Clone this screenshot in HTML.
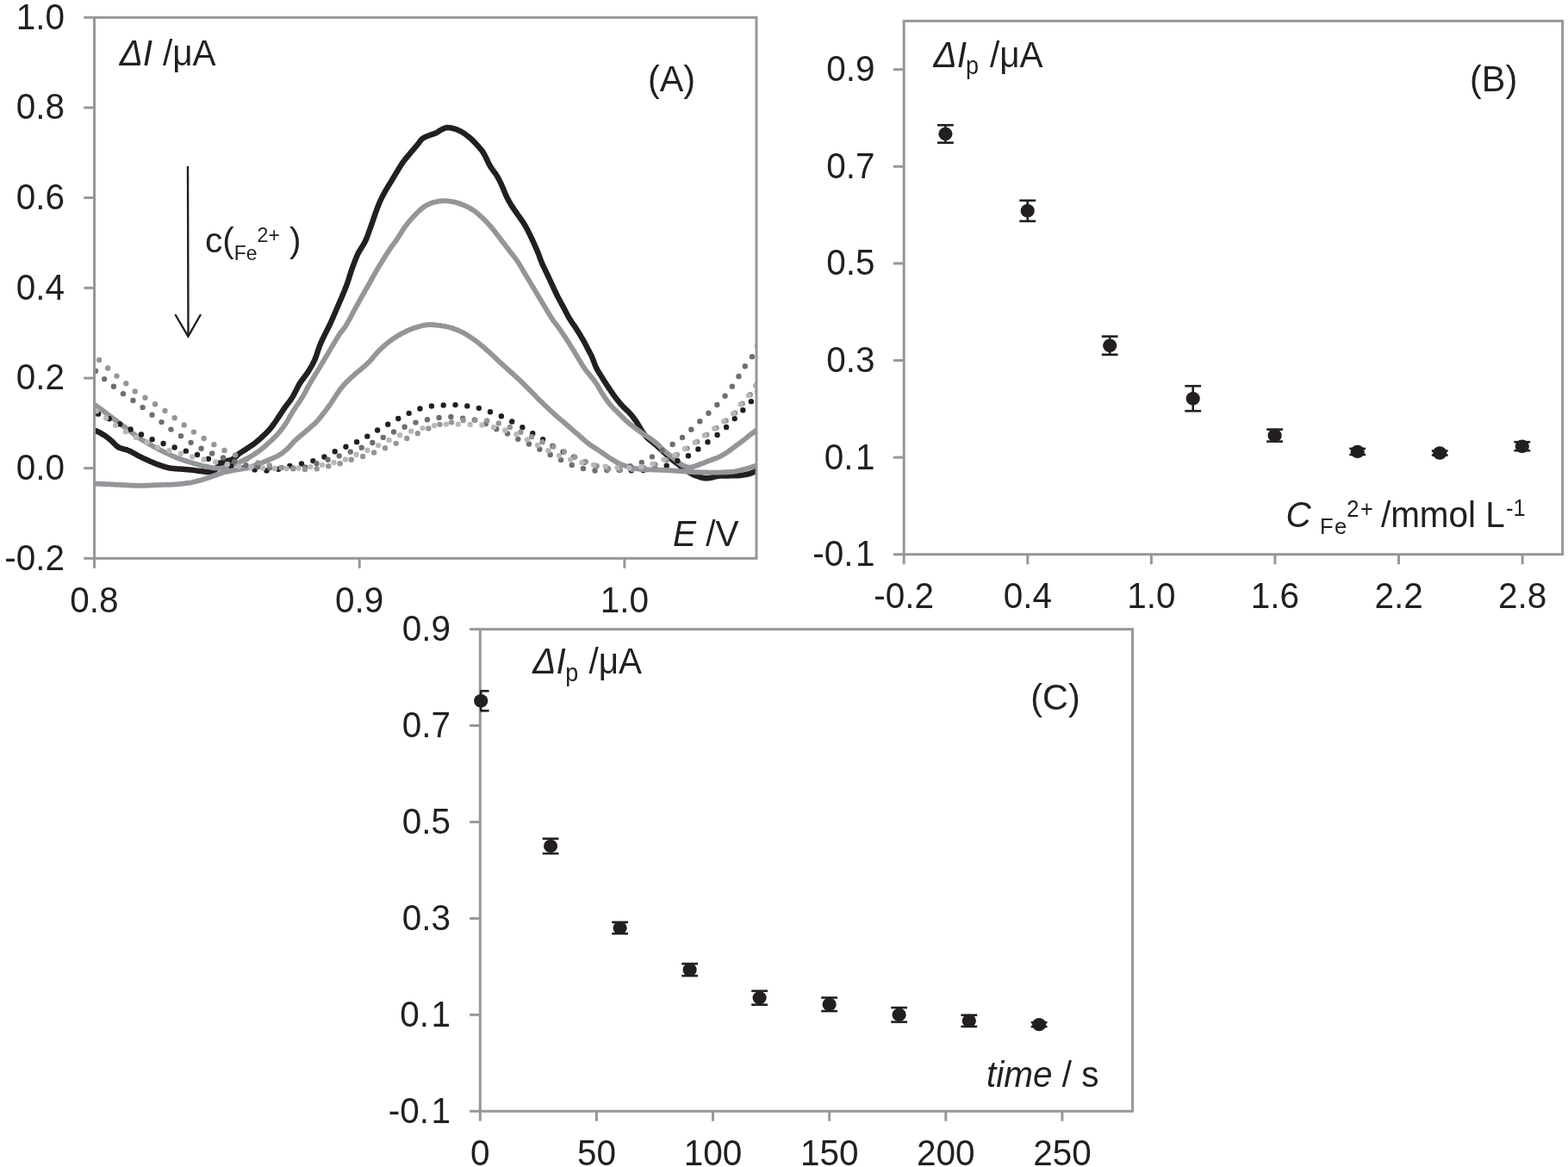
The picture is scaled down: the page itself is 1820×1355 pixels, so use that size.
<!DOCTYPE html>
<html><head><meta charset="utf-8"><title>Figure</title>
<style>
html,body{margin:0;padding:0;background:#fff;width:1820px;height:1355px;overflow:hidden}
svg{display:block}
.t{font-family:"Liberation Sans",Arial,sans-serif;font-size:40.5px;fill:#231f20}
.c{font-size:42px}
</style></head><body>
<svg width="1820" height="1355" viewBox="0 0 1820 1355">
<rect width="1820" height="1355" fill="#fff"/>
<defs><clipPath id="ca"><rect x="109.5" y="20.3" width="768.5" height="628.0"/></clipPath></defs>
<g clip-path="url(#ca)" fill="none" stroke-linejoin="round">
<path d="M109.0 499.3 L110.5 499.9 L112.0 500.5 L113.5 501.2 L115.0 501.9 L116.5 502.7 L118.0 503.6 L119.5 504.5 L121.0 505.4 L122.5 506.4 L124.0 507.5 L125.5 508.6 L127.0 509.9 L128.5 511.1 L130.0 512.4 L131.5 513.9 L133.0 515.5 L134.5 517.0 L136.0 518.3 L137.5 519.3 L139.0 520.0 L140.5 520.5 L142.0 521.0 L143.5 521.4 L145.0 521.8 L146.5 522.2 L148.0 522.7 L149.5 523.3 L151.0 523.9 L152.5 524.7 L154.0 525.5 L155.5 526.3 L157.0 527.2 L158.5 528.0 L160.0 528.9 L161.5 529.6 L163.0 530.4 L164.5 531.1 L166.0 531.9 L167.5 532.6 L169.0 533.3 L170.5 533.9 L172.0 534.6 L173.5 535.3 L175.0 535.9 L176.5 536.6 L178.0 537.2 L179.5 537.9 L181.0 538.5 L182.5 539.1 L184.0 539.6 L185.5 540.2 L187.0 540.7 L188.5 541.1 L190.0 541.6 L191.5 542.1 L193.0 542.5 L194.5 542.9 L196.0 543.2 L197.5 543.5 L199.0 543.7 L200.5 543.9 L202.0 544.0 L203.5 544.2 L205.0 544.3 L206.5 544.4 L208.0 544.5 L209.5 544.6 L211.0 544.7 L212.5 544.8 L214.0 544.9 L215.5 545.0 L217.0 545.2 L218.5 545.3 L220.0 545.4 L221.5 545.6 L223.0 545.7 L224.5 545.9 L226.0 546.1 L227.5 546.4 L229.0 546.6 L230.5 546.8 L232.0 547.0 L233.5 547.1 L235.0 547.3 L236.5 547.5 L238.0 547.7 L239.5 547.9 L241.0 548.0 L242.5 548.1 L244.0 548.0 L245.5 547.7 L247.0 547.0 L248.5 546.3 L250.0 545.3 L251.5 543.6 L253.0 541.7 L254.5 540.0 L256.0 538.7 L257.5 537.5 L259.0 536.5 L260.5 535.8 L262.0 535.4 L263.5 535.1 L265.0 534.8 L266.5 534.5 L268.0 534.1 L269.5 533.5 L271.0 532.6 L272.5 531.4 L274.0 530.0 L275.5 528.6 L277.0 527.2 L278.5 526.1 L280.0 525.1 L281.5 524.1 L283.0 523.1 L284.5 522.2 L286.0 521.2 L287.5 520.2 L289.0 519.2 L290.5 518.3 L292.0 517.3 L293.5 516.3 L295.0 515.2 L296.5 514.0 L298.0 512.8 L299.5 511.5 L301.0 510.2 L302.5 508.9 L304.0 507.5 L305.5 506.1 L307.0 504.7 L308.5 503.2 L310.0 501.7 L311.5 500.2 L313.0 498.5 L314.5 496.7 L316.0 494.8 L317.5 492.8 L319.0 490.7 L320.5 488.5 L322.0 486.2 L323.5 483.9 L325.0 481.6 L326.5 479.4 L328.0 477.1 L329.5 474.9 L331.0 472.7 L332.5 470.7 L334.0 468.8 L335.5 466.9 L337.0 464.8 L338.5 462.6 L340.0 460.1 L341.5 457.4 L343.0 454.6 L344.5 451.6 L346.0 448.6 L347.5 445.9 L349.0 443.6 L350.5 441.5 L352.0 439.5 L353.5 437.5 L355.0 435.5 L356.5 433.4 L358.0 431.1 L359.5 428.6 L361.0 426.1 L362.5 423.5 L364.0 420.6 L365.5 417.4 L367.0 413.5 L368.5 408.9 L370.0 404.3 L371.5 400.4 L373.0 396.9 L374.5 393.6 L376.0 390.5 L377.5 387.4 L379.0 384.5 L380.5 381.6 L382.0 378.5 L383.5 375.3 L385.0 372.0 L386.5 368.7 L388.0 365.2 L389.5 361.7 L391.0 358.2 L392.5 354.7 L394.0 351.3 L395.5 347.8 L397.0 344.3 L398.5 340.8 L400.0 337.1 L401.5 333.3 L403.0 329.2 L404.5 324.7 L406.0 320.0 L407.5 315.3 L409.0 310.9 L410.5 306.8 L412.0 302.8 L413.5 299.1 L415.0 295.6 L416.5 292.7 L418.0 290.1 L419.5 287.8 L421.0 285.4 L422.5 282.9 L424.0 280.0 L425.5 276.6 L427.0 272.7 L428.5 268.5 L430.0 264.3 L431.5 260.1 L433.0 255.7 L434.5 251.2 L436.0 246.9 L437.5 242.9 L439.0 239.0 L440.5 235.3 L442.0 231.9 L443.5 228.8 L445.0 226.0 L446.5 223.2 L448.0 220.6 L449.5 218.0 L451.0 215.5 L452.5 213.1 L454.0 210.7 L455.5 208.2 L457.0 205.6 L458.5 203.1 L460.0 200.6 L461.5 198.2 L463.0 195.7 L464.5 193.3 L466.0 190.9 L467.5 188.7 L469.0 186.6 L470.5 184.7 L472.0 182.9 L473.5 181.1 L475.0 179.3 L476.5 177.5 L478.0 175.7 L479.5 174.0 L481.0 172.2 L482.5 170.5 L484.0 168.7 L485.5 166.8 L487.0 164.7 L488.5 162.8 L490.0 161.2 L491.5 160.2 L493.0 159.4 L494.5 158.7 L496.0 158.1 L497.5 157.5 L499.0 156.9 L500.5 156.4 L502.0 155.9 L503.5 155.4 L505.0 154.9 L506.5 154.2 L508.0 153.3 L509.5 152.3 L511.0 151.3 L512.5 150.5 L514.0 149.8 L515.5 149.1 L517.0 148.5 L518.5 148.2 L520.0 148.1 L521.5 148.3 L523.0 148.5 L524.5 148.8 L526.0 149.1 L527.5 149.5 L529.0 150.0 L530.5 150.6 L532.0 151.2 L533.5 151.9 L535.0 152.7 L536.5 153.5 L538.0 154.4 L539.5 155.4 L541.0 156.5 L542.5 157.7 L544.0 158.9 L545.5 160.1 L547.0 161.4 L548.5 162.9 L550.0 164.4 L551.5 165.9 L553.0 167.5 L554.5 169.2 L556.0 170.8 L557.5 172.6 L559.0 174.4 L560.5 176.5 L562.0 179.0 L563.5 181.9 L565.0 185.0 L566.5 188.2 L568.0 191.2 L569.5 193.8 L571.0 196.0 L572.5 198.1 L574.0 200.1 L575.5 202.1 L577.0 204.5 L578.5 207.1 L580.0 210.1 L581.5 213.2 L583.0 216.5 L584.5 220.1 L586.0 223.7 L587.5 227.2 L589.0 230.2 L590.5 233.1 L592.0 235.7 L593.5 238.3 L595.0 240.6 L596.5 242.9 L598.0 245.0 L599.5 247.2 L601.0 249.4 L602.5 251.4 L604.0 253.5 L605.5 255.6 L607.0 257.8 L608.5 260.2 L610.0 262.8 L611.5 265.5 L613.0 268.4 L614.5 271.4 L616.0 274.5 L617.5 277.7 L619.0 280.9 L620.5 284.3 L622.0 287.6 L623.5 291.1 L625.0 294.7 L626.5 298.8 L628.0 303.0 L629.5 306.6 L631.0 309.8 L632.5 312.9 L634.0 316.0 L635.5 319.2 L637.0 322.4 L638.5 325.6 L640.0 328.8 L641.5 332.1 L643.0 335.3 L644.5 338.5 L646.0 341.7 L647.5 344.7 L649.0 347.5 L650.5 350.3 L652.0 353.1 L653.5 355.8 L655.0 358.7 L656.5 361.6 L658.0 364.5 L659.5 367.3 L661.0 369.9 L662.5 372.3 L664.0 374.6 L665.5 376.7 L667.0 378.9 L668.5 381.1 L670.0 383.5 L671.5 385.9 L673.0 388.3 L674.5 390.8 L676.0 393.3 L677.5 395.9 L679.0 398.7 L680.5 401.6 L682.0 404.6 L683.5 407.4 L685.0 410.2 L686.5 413.1 L688.0 416.7 L689.5 420.7 L691.0 424.6 L692.5 427.8 L694.0 430.5 L695.5 433.0 L697.0 435.4 L698.5 437.8 L700.0 440.2 L701.5 442.6 L703.0 444.9 L704.5 447.2 L706.0 449.4 L707.5 451.7 L709.0 454.0 L710.5 456.2 L712.0 458.3 L713.5 460.4 L715.0 462.4 L716.5 464.4 L718.0 466.2 L719.5 468.0 L721.0 469.8 L722.5 471.4 L724.0 473.0 L725.5 474.4 L727.0 475.8 L728.5 477.2 L730.0 478.7 L731.5 480.4 L733.0 482.1 L734.5 484.0 L736.0 486.0 L737.5 488.0 L739.0 490.2 L740.5 492.6 L742.0 495.1 L743.5 497.6 L745.0 500.2 L746.5 502.5 L748.0 504.5 L749.5 506.3 L751.0 508.0 L752.5 509.5 L754.0 510.8 L755.5 512.0 L757.0 513.1 L758.5 514.3 L760.0 515.5 L761.5 516.8 L763.0 518.1 L764.5 519.5 L766.0 520.9 L767.5 522.2 L769.0 523.6 L770.5 525.0 L772.0 526.3 L773.5 527.7 L775.0 529.1 L776.5 530.4 L778.0 531.8 L779.5 533.1 L781.0 534.3 L782.5 535.5 L784.0 536.7 L785.5 537.8 L787.0 539.0 L788.5 540.1 L790.0 541.3 L791.5 542.5 L793.0 543.6 L794.5 544.8 L796.0 545.8 L797.5 546.8 L799.0 547.8 L800.5 548.7 L802.0 549.6 L803.5 550.5 L805.0 551.3 L806.5 551.9 L808.0 552.5 L809.5 553.0 L811.0 553.5 L812.5 554.0 L814.0 554.4 L815.5 554.8 L817.0 555.0 L818.5 555.2 L820.0 555.3 L821.5 555.2 L823.0 555.1 L824.5 554.8 L826.0 554.5 L827.5 554.1 L829.0 553.7 L830.5 553.3 L832.0 553.0 L833.5 552.7 L835.0 552.6 L836.5 552.5 L838.0 552.5 L839.5 552.4 L841.0 552.4 L842.5 552.4 L844.0 552.4 L845.5 552.4 L847.0 552.3 L848.5 552.3 L850.0 552.3 L851.5 552.3 L853.0 552.3 L854.5 552.2 L856.0 552.2 L857.5 552.1 L859.0 552.0 L860.5 551.8 L862.0 551.6 L863.5 551.4 L865.0 551.1 L866.5 550.8 L868.0 550.5 L869.5 550.1 L871.0 549.7 L872.5 549.2 L874.0 548.6 L875.5 547.9 L877.0 547.1 L878.5 546.3 L879.0 546.0" stroke="#231f20" stroke-width="6.5"/>
<path d="M109.0 469.5 L110.5 470.5 L112.0 471.5 L113.5 472.5 L115.0 473.5 L116.5 474.6 L118.0 475.7 L119.5 476.9 L121.0 478.0 L122.5 479.1 L124.0 480.3 L125.5 481.4 L127.0 482.6 L128.5 483.7 L130.0 484.8 L131.5 486.0 L133.0 487.1 L134.5 488.2 L136.0 489.3 L137.5 490.4 L139.0 491.6 L140.5 492.7 L142.0 493.8 L143.5 494.9 L145.0 496.1 L146.5 497.2 L148.0 498.3 L149.5 499.5 L151.0 500.7 L152.5 501.8 L154.0 503.0 L155.5 504.2 L157.0 505.3 L158.5 506.4 L160.0 507.5 L161.5 508.5 L163.0 509.5 L164.5 510.5 L166.0 511.4 L167.5 512.3 L169.0 513.2 L170.5 514.1 L172.0 515.0 L173.5 515.8 L175.0 516.7 L176.5 517.5 L178.0 518.3 L179.5 519.2 L181.0 520.0 L182.5 520.8 L184.0 521.5 L185.5 522.3 L187.0 523.1 L188.5 523.8 L190.0 524.5 L191.5 525.3 L193.0 526.0 L194.5 526.7 L196.0 527.4 L197.5 528.1 L199.0 528.8 L200.5 529.5 L202.0 530.2 L203.5 530.8 L205.0 531.4 L206.5 532.0 L208.0 532.5 L209.5 533.1 L211.0 533.6 L212.5 534.1 L214.0 534.6 L215.5 535.1 L217.0 535.6 L218.5 536.1 L220.0 536.5 L221.5 537.0 L223.0 537.4 L224.5 537.9 L226.0 538.3 L227.5 538.8 L229.0 539.2 L230.5 539.6 L232.0 540.0 L233.5 540.4 L235.0 540.8 L236.5 541.1 L238.0 541.4 L239.5 541.7 L241.0 542.0 L242.5 542.3 L244.0 542.6 L245.5 542.8 L247.0 543.1 L248.5 543.3 L250.0 543.4 L251.5 543.6 L253.0 543.6 L254.5 543.6 L256.0 543.4 L257.5 543.2 L259.0 543.0 L260.5 542.7 L262.0 542.3 L263.5 542.0 L265.0 541.6 L266.5 541.2 L268.0 540.7 L269.5 540.2 L271.0 539.6 L272.5 539.0 L274.0 538.3 L275.5 537.7 L277.0 537.0 L278.5 536.3 L280.0 535.7 L281.5 535.0 L283.0 534.2 L284.5 533.5 L286.0 532.7 L287.5 531.9 L289.0 531.1 L290.5 530.2 L292.0 529.4 L293.5 528.4 L295.0 527.5 L296.5 526.5 L298.0 525.5 L299.5 524.5 L301.0 523.4 L302.5 522.3 L304.0 521.1 L305.5 519.9 L307.0 518.6 L308.5 517.3 L310.0 515.9 L311.5 514.6 L313.0 513.2 L314.5 511.8 L316.0 510.4 L317.5 509.0 L319.0 507.5 L320.5 505.9 L322.0 504.3 L323.5 502.6 L325.0 500.8 L326.5 498.9 L328.0 497.0 L329.5 494.9 L331.0 492.8 L332.5 490.5 L334.0 488.0 L335.5 485.4 L337.0 482.8 L338.5 480.2 L340.0 477.7 L341.5 475.4 L343.0 473.1 L344.5 470.9 L346.0 468.7 L347.5 466.5 L349.0 464.2 L350.5 461.9 L352.0 459.3 L353.5 456.6 L355.0 453.8 L356.5 450.9 L358.0 448.2 L359.5 445.5 L361.0 443.0 L362.5 440.5 L364.0 438.1 L365.5 435.6 L367.0 433.2 L368.5 430.7 L370.0 428.2 L371.5 425.7 L373.0 423.2 L374.5 420.7 L376.0 418.2 L377.5 415.7 L379.0 413.2 L380.5 410.7 L382.0 408.1 L383.5 405.6 L385.0 403.1 L386.5 400.6 L388.0 398.0 L389.5 395.4 L391.0 392.9 L392.5 390.4 L394.0 388.1 L395.5 386.0 L397.0 384.2 L398.5 382.3 L400.0 380.3 L401.5 378.0 L403.0 375.5 L404.5 372.9 L406.0 370.2 L407.5 367.4 L409.0 364.5 L410.5 361.6 L412.0 358.8 L413.5 356.0 L415.0 353.3 L416.5 350.6 L418.0 347.9 L419.5 345.3 L421.0 342.6 L422.5 340.0 L424.0 337.3 L425.5 334.7 L427.0 332.1 L428.5 329.4 L430.0 326.7 L431.5 324.0 L433.0 321.3 L434.5 318.7 L436.0 316.0 L437.5 313.4 L439.0 310.8 L440.5 308.3 L442.0 305.9 L443.5 303.4 L445.0 301.0 L446.5 298.6 L448.0 296.2 L449.5 293.8 L451.0 291.6 L452.5 289.3 L454.0 287.1 L455.5 285.0 L457.0 283.0 L458.5 281.0 L460.0 278.8 L461.5 276.6 L463.0 274.3 L464.5 271.9 L466.0 269.5 L467.5 267.2 L469.0 264.9 L470.5 262.8 L472.0 260.8 L473.5 258.9 L475.0 257.1 L476.5 255.3 L478.0 253.6 L479.5 251.9 L481.0 250.3 L482.5 248.8 L484.0 247.3 L485.5 245.8 L487.0 244.4 L488.5 243.0 L490.0 241.7 L491.5 240.5 L493.0 239.5 L494.5 238.6 L496.0 237.9 L497.5 237.1 L499.0 236.5 L500.5 235.9 L502.0 235.4 L503.5 234.9 L505.0 234.6 L506.5 234.3 L508.0 234.0 L509.5 233.7 L511.0 233.5 L512.5 233.3 L514.0 233.2 L515.5 233.1 L517.0 233.1 L518.5 233.2 L520.0 233.4 L521.5 233.6 L523.0 233.8 L524.5 234.1 L526.0 234.4 L527.5 234.7 L529.0 235.0 L530.5 235.4 L532.0 235.9 L533.5 236.4 L535.0 236.9 L536.5 237.5 L538.0 238.1 L539.5 238.7 L541.0 239.3 L542.5 240.1 L544.0 240.8 L545.5 241.7 L547.0 242.6 L548.5 243.5 L550.0 244.5 L551.5 245.7 L553.0 246.8 L554.5 248.1 L556.0 249.4 L557.5 250.7 L559.0 252.1 L560.5 253.5 L562.0 254.9 L563.5 256.4 L565.0 258.0 L566.5 259.6 L568.0 261.3 L569.5 263.0 L571.0 264.8 L572.5 266.7 L574.0 268.5 L575.5 270.4 L577.0 272.3 L578.5 274.3 L580.0 276.2 L581.5 278.2 L583.0 280.2 L584.5 282.2 L586.0 284.1 L587.5 286.1 L589.0 288.0 L590.5 290.0 L592.0 292.0 L593.5 293.9 L595.0 295.8 L596.5 297.8 L598.0 299.7 L599.5 301.7 L601.0 303.9 L602.5 306.2 L604.0 308.7 L605.5 311.3 L607.0 313.9 L608.5 316.4 L610.0 318.9 L611.5 321.4 L613.0 323.9 L614.5 326.4 L616.0 328.9 L617.5 331.4 L619.0 333.9 L620.5 336.4 L622.0 338.9 L623.5 341.4 L625.0 343.9 L626.5 346.4 L628.0 348.9 L629.5 351.4 L631.0 353.9 L632.5 356.4 L634.0 358.9 L635.5 361.5 L637.0 364.1 L638.5 366.5 L640.0 368.9 L641.5 371.2 L643.0 373.3 L644.5 375.3 L646.0 377.3 L647.5 379.3 L649.0 381.3 L650.5 383.4 L652.0 385.6 L653.5 387.8 L655.0 390.0 L656.5 392.3 L658.0 394.6 L659.5 396.9 L661.0 399.3 L662.5 401.7 L664.0 404.1 L665.5 406.6 L667.0 409.0 L668.5 411.5 L670.0 414.0 L671.5 416.6 L673.0 419.1 L674.5 421.6 L676.0 424.0 L677.5 426.3 L679.0 428.4 L680.5 430.4 L682.0 432.3 L683.5 434.2 L685.0 436.0 L686.5 437.8 L688.0 439.7 L689.5 441.6 L691.0 443.7 L692.5 445.9 L694.0 448.3 L695.5 450.8 L697.0 453.4 L698.5 456.0 L700.0 458.4 L701.5 460.7 L703.0 462.8 L704.5 464.9 L706.0 467.0 L707.5 468.9 L709.0 470.7 L710.5 472.4 L712.0 474.0 L713.5 475.5 L715.0 476.9 L716.5 478.3 L718.0 479.8 L719.5 481.3 L721.0 482.9 L722.5 484.4 L724.0 485.9 L725.5 487.4 L727.0 488.8 L728.5 490.1 L730.0 491.4 L731.5 492.6 L733.0 493.7 L734.5 494.9 L736.0 496.0 L737.5 497.2 L739.0 498.3 L740.5 499.4 L742.0 500.5 L743.5 501.6 L745.0 502.7 L746.5 503.7 L748.0 504.7 L749.5 505.6 L751.0 506.6 L752.5 507.6 L754.0 508.6 L755.5 509.7 L757.0 510.8 L758.5 512.0 L760.0 513.1 L761.5 514.4 L763.0 515.7 L764.5 517.1 L766.0 518.6 L767.5 520.1 L769.0 521.6 L770.5 522.9 L772.0 524.2 L773.5 525.5 L775.0 526.7 L776.5 527.9 L778.0 529.1 L779.5 530.2 L781.0 531.4 L782.5 532.6 L784.0 533.8 L785.5 535.1 L787.0 536.4 L788.5 537.7 L790.0 538.8 L791.5 539.8 L793.0 540.5 L794.5 541.1 L796.0 541.8 L797.5 542.2 L799.0 542.5 L800.5 542.6 L802.0 542.4 L803.5 542.1 L805.0 541.7 L806.5 541.2 L808.0 540.7 L809.5 540.1 L811.0 539.6 L812.5 539.1 L814.0 538.5 L815.5 538.0 L817.0 537.4 L818.5 536.8 L820.0 536.2 L821.5 535.6 L823.0 535.0 L824.5 534.5 L826.0 533.9 L827.5 533.4 L829.0 532.8 L830.5 532.3 L832.0 531.7 L833.5 531.1 L835.0 530.4 L836.5 529.7 L838.0 528.8 L839.5 528.0 L841.0 527.0 L842.5 526.1 L844.0 525.1 L845.5 524.1 L847.0 523.0 L848.5 521.9 L850.0 520.7 L851.5 519.6 L853.0 518.5 L854.5 517.4 L856.0 516.3 L857.5 515.2 L859.0 514.1 L860.5 513.0 L862.0 511.9 L863.5 510.7 L865.0 509.5 L866.5 508.3 L868.0 507.0 L869.5 505.8 L871.0 504.6 L872.5 503.5 L874.0 502.4 L875.5 501.3 L877.0 500.2 L878.5 499.1 L879.0 498.8" stroke="#939598" stroke-width="5.9"/>
<path d="M111.0 479.3 L111.8 479.6 L112.5 479.9 L113.2 480.2 L114.0 480.6 L114.8 480.9 L115.5 481.2 L116.2 481.5 L117.0 481.9 L117.8 482.2 L118.5 482.5 L119.2 482.9 L120.0 483.2 L120.8 483.5 L121.5 483.9 L122.2 484.2 L123.0 484.6 L123.8 484.9 L124.5 485.3 L125.2 485.6 L126.0 486.0 L126.8 486.3 L127.5 486.7 L128.2 487.0 L129.0 487.4 L129.8 487.8 L130.5 488.2 L131.2 488.5 L132.0 488.9 L132.8 489.3 L133.5 489.7 L134.2 490.1 L135.0 490.4 L135.8 490.8 L136.5 491.2 L137.2 491.6 L138.0 492.0 L138.8 492.3 L139.5 492.7 L140.2 493.1 L141.0 493.4 L141.8 493.8 L142.5 494.1 L143.2 494.5 L144.0 494.8 L144.8 495.2 L145.5 495.5 L146.2 495.9 L147.0 496.2 L147.8 496.6 L148.5 497.0 L149.2 497.3 L150.0 497.7 L150.8 498.0 L151.5 498.4 L152.2 498.8 L153.0 499.1 L153.8 499.5 L154.5 499.9 L155.2 500.2 L156.0 500.6 L156.8 501.0 L157.5 501.3 L158.2 501.7 L159.0 502.1 L159.8 502.4 L160.5 502.8 L161.2 503.2 L162.0 503.5 L162.8 503.9 L163.5 504.2 L164.2 504.6 L165.0 505.0 L165.8 505.3 L166.5 505.7 L167.2 506.0 L168.0 506.4 L168.8 506.7 L169.5 507.0 L170.2 507.4 L171.0 507.7 L171.8 508.1 L172.5 508.4 L173.2 508.7 L174.0 509.1 L174.8 509.4 L175.5 509.7 L176.2 510.0 L177.0 510.3 L177.8 510.6 L178.5 510.9 L179.2 511.2 L180.0 511.5 L180.8 511.8 L181.5 512.1 L182.2 512.3 L183.0 512.6 L183.8 512.9 L184.5 513.2 L185.2 513.4 L186.0 513.7 L186.8 514.0 L187.5 514.3 L188.2 514.5 L189.0 514.8 L189.8 515.1 L190.5 515.3 L191.2 515.6 L192.0 515.9 L192.8 516.1 L193.5 516.4 L194.2 516.7 L195.0 516.9 L195.8 517.2 L196.5 517.4 L197.2 517.7 L198.0 518.0 L198.8 518.2 L199.5 518.5 L200.2 518.7 L201.0 519.0 L201.8 519.2 L202.5 519.5 L203.2 519.7 L204.0 520.0 L204.8 520.2 L205.5 520.4 L206.2 520.7 L207.0 520.9 L207.8 521.1 L208.5 521.4 L209.2 521.6 L210.0 521.8 L210.8 522.1 L211.5 522.3 L212.2 522.5 L213.0 522.8 L213.8 523.0 L214.5 523.2 L215.2 523.5 L216.0 523.7 L216.8 524.0 L217.5 524.2 L218.2 524.4 L219.0 524.7 L219.8 524.9 L220.5 525.1 L221.2 525.4 L222.0 525.6 L222.8 525.9 L223.5 526.1 L224.2 526.3 L225.0 526.6 L225.8 526.8 L226.5 527.1 L227.2 527.3 L228.0 527.6 L228.8 527.9 L229.5 528.1 L230.2 528.4 L231.0 528.7 L231.8 528.9 L232.5 529.2 L233.2 529.5 L234.0 529.8 L234.8 530.1 L235.5 530.4 L236.2 530.7 L237.0 530.9 L237.8 531.2 L238.5 531.5 L239.2 531.8 L240.0 532.1 L240.8 532.4 L241.5 532.7 L242.2 532.9 L243.0 533.2 L243.8 533.5 L244.5 533.8 L245.2 534.0 L246.0 534.3 L246.8 534.6 L247.5 534.9 L248.2 535.1 L249.0 535.4 L249.8 535.7 L250.5 535.9 L251.2 536.2 L252.0 536.5 L252.8 536.7 L253.5 537.0 L254.2 537.2 L255.0 537.5 L255.8 537.7 L256.5 537.9 L257.2 538.1 L258.0 538.4 L258.8 538.6 L259.5 538.8 L260.2 539.0 L261.0 539.2 L261.8 539.5 L262.5 539.7 L263.2 539.9 L264.0 540.1 L264.8 540.2 L265.5 540.4 L266.2 540.6 L267.0 540.8 L267.8 541.0 L268.5 541.1 L269.2 541.3 L270.0 541.4 L270.8 541.6 L271.5 541.7 L272.2 541.9 L273.0 542.0 L273.8 542.1 L274.5 542.3 L275.2 542.4 L276.0 542.5 L276.8 542.6 L277.5 542.8 L278.2 542.9 L279.0 543.0 L279.8 543.1 L280.5 543.3 L281.2 543.4 L282.0 543.5 L282.8 543.6 L283.5 543.7 L284.2 543.8 L285.0 544.0 L285.8 544.1 L286.5 544.2 L287.2 544.3 L288.0 544.4 L288.8 544.5 L289.5 544.6 L290.2 544.7 L291.0 544.8 L291.8 544.9 L292.5 545.0 L293.2 545.1 L294.0 545.2 L294.8 545.3 L295.5 545.4 L296.2 545.5 L297.0 545.5 L297.8 545.6 L298.5 545.7 L299.2 545.8 L300.0 545.8 L300.8 545.9 L301.5 546.0 L302.2 546.1 L303.0 546.1 L303.8 546.2 L304.5 546.2 L305.2 546.3 L306.0 546.3 L306.8 546.4 L307.5 546.4 L308.2 546.4 L309.0 546.4 L309.8 546.4 L310.5 546.4 L311.2 546.3 L312.0 546.3 L312.8 546.2 L313.5 546.2 L314.2 546.1 L315.0 546.0 L315.8 545.9 L316.5 545.8 L317.2 545.7 L318.0 545.6 L318.8 545.5 L319.5 545.4 L320.2 545.3 L321.0 545.1 L321.8 545.0 L322.5 544.9 L323.2 544.8 L324.0 544.6 L324.8 544.4 L325.5 544.3 L326.2 544.0 L327.0 543.8 L327.8 543.6 L328.5 543.3 L329.2 543.1 L330.0 542.8 L330.8 542.6 L331.5 542.3 L332.2 542.1 L333.0 541.8 L333.8 541.6 L334.5 541.3 L335.2 541.1 L336.0 540.9 L336.8 540.8 L337.5 540.6 L338.2 540.5 L339.0 540.3 L339.8 540.2 L340.5 540.1 L341.2 540.0 L342.0 539.8 L342.8 539.7 L343.5 539.6 L344.2 539.5 L345.0 539.4 L345.8 539.3 L346.5 539.2 L347.2 539.1 L348.0 539.0 L348.8 538.8 L349.5 538.7 L350.2 538.5 L351.0 538.4 L351.8 538.2 L352.5 538.1 L353.2 537.9 L354.0 537.7 L354.8 537.5 L355.5 537.4 L356.2 537.2 L357.0 537.0 L357.8 536.8 L358.5 536.6 L359.2 536.3 L360.0 536.1 L360.8 535.9 L361.5 535.7 L362.2 535.5 L363.0 535.2 L363.8 535.0 L364.5 534.8 L365.2 534.6 L366.0 534.3 L366.8 534.1 L367.5 533.8 L368.2 533.6 L369.0 533.3 L369.8 533.1 L370.5 532.8 L371.2 532.5 L372.0 532.2 L372.8 532.0 L373.5 531.7 L374.2 531.4 L375.0 531.1 L375.8 530.8 L376.5 530.5 L377.2 530.1 L378.0 529.8 L378.8 529.5 L379.5 529.1 L380.2 528.7 L381.0 528.3 L381.8 527.9 L382.5 527.5 L383.2 527.1 L384.0 526.7 L384.8 526.3 L385.5 525.9 L386.2 525.5 L387.0 525.1 L387.8 524.7 L388.5 524.3 L389.2 524.0 L390.0 523.6 L390.8 523.3 L391.5 523.0 L392.2 522.7 L393.0 522.3 L393.8 522.0 L394.5 521.7 L395.2 521.4 L396.0 521.1 L396.8 520.8 L397.5 520.5 L398.2 520.2 L399.0 519.9 L399.8 519.6 L400.5 519.3 L401.2 518.9 L402.0 518.6 L402.8 518.3 L403.5 518.0 L404.2 517.6 L405.0 517.3 L405.8 517.0 L406.5 516.6 L407.2 516.3 L408.0 516.0 L408.8 515.6 L409.5 515.3 L410.2 515.0 L411.0 514.6 L411.8 514.3 L412.5 513.9 L413.2 513.6 L414.0 513.2 L414.8 512.8 L415.5 512.5 L416.2 512.1 L417.0 511.7 L417.8 511.3 L418.5 510.9 L419.2 510.5 L420.0 510.1 L420.8 509.7 L421.5 509.3 L422.2 508.9 L423.0 508.5 L423.8 508.1 L424.5 507.6 L425.2 507.2 L426.0 506.8 L426.8 506.4 L427.5 505.9 L428.2 505.5 L429.0 505.1 L429.8 504.6 L430.5 504.2 L431.2 503.7 L432.0 503.3 L432.8 502.8 L433.5 502.3 L434.2 501.9 L435.0 501.4 L435.8 501.0 L436.5 500.5 L437.2 500.1 L438.0 499.6 L438.8 499.2 L439.5 498.8 L440.2 498.4 L441.0 497.9 L441.8 497.5 L442.5 497.1 L443.2 496.7 L444.0 496.3 L444.8 495.8 L445.5 495.4 L446.2 495.0 L447.0 494.6 L447.8 494.2 L448.5 493.8 L449.2 493.4 L450.0 492.9 L450.8 492.5 L451.5 492.1 L452.2 491.7 L453.0 491.2 L453.8 490.8 L454.5 490.3 L455.2 489.9 L456.0 489.5 L456.8 489.0 L457.5 488.6 L458.2 488.2 L459.0 487.7 L459.8 487.3 L460.5 486.9 L461.2 486.5 L462.0 486.1 L462.8 485.7 L463.5 485.3 L464.2 484.9 L465.0 484.5 L465.8 484.1 L466.5 483.8 L467.2 483.4 L468.0 483.0 L468.8 482.6 L469.5 482.3 L470.2 481.9 L471.0 481.6 L471.8 481.2 L472.5 480.9 L473.2 480.5 L474.0 480.2 L474.8 479.8 L475.5 479.5 L476.2 479.2 L477.0 478.8 L477.8 478.5 L478.5 478.1 L479.2 477.8 L480.0 477.5 L480.8 477.1 L481.5 476.8 L482.2 476.5 L483.0 476.1 L483.8 475.8 L484.5 475.5 L485.2 475.3 L486.0 475.0 L486.8 474.7 L487.5 474.5 L488.2 474.3 L489.0 474.1 L489.8 473.9 L490.5 473.7 L491.2 473.5 L492.0 473.3 L492.8 473.1 L493.5 472.9 L494.2 472.7 L495.0 472.6 L495.8 472.4 L496.5 472.3 L497.2 472.1 L498.0 472.0 L498.8 471.9 L499.5 471.7 L500.2 471.6 L501.0 471.5 L501.8 471.5 L502.5 471.4 L503.2 471.3 L504.0 471.2 L504.8 471.2 L505.5 471.1 L506.2 471.0 L507.0 471.0 L507.8 470.9 L508.5 470.9 L509.2 470.8 L510.0 470.8 L510.8 470.7 L511.5 470.7 L512.2 470.6 L513.0 470.6 L513.8 470.6 L514.5 470.5 L515.2 470.5 L516.0 470.5 L516.8 470.4 L517.5 470.4 L518.2 470.4 L519.0 470.3 L519.8 470.3 L520.5 470.3 L521.2 470.3 L522.0 470.2 L522.8 470.2 L523.5 470.2 L524.2 470.2 L525.0 470.1 L525.8 470.1 L526.5 470.1 L527.2 470.1 L528.0 470.1 L528.8 470.1 L529.5 470.1 L530.2 470.1 L531.0 470.1 L531.8 470.2 L532.5 470.2 L533.2 470.3 L534.0 470.4 L534.8 470.4 L535.5 470.5 L536.2 470.6 L537.0 470.7 L537.8 470.8 L538.5 470.9 L539.2 471.0 L540.0 471.1 L540.8 471.2 L541.5 471.3 L542.2 471.4 L543.0 471.5 L543.8 471.6 L544.5 471.7 L545.2 471.8 L546.0 471.9 L546.8 472.1 L547.5 472.2 L548.2 472.3 L549.0 472.4 L549.8 472.6 L550.5 472.7 L551.2 472.8 L552.0 473.0 L552.8 473.1 L553.5 473.3 L554.2 473.5 L555.0 473.6 L555.8 473.8 L556.5 474.0 L557.2 474.2 L558.0 474.4 L558.8 474.6 L559.5 474.8 L560.2 475.0 L561.0 475.3 L561.8 475.5 L562.5 475.8 L563.2 476.0 L564.0 476.3 L564.8 476.6 L565.5 476.9 L566.2 477.1 L567.0 477.4 L567.8 477.7 L568.5 478.0 L569.2 478.3 L570.0 478.5 L570.8 478.8 L571.5 479.1 L572.2 479.4 L573.0 479.6 L573.8 479.9 L574.5 480.2 L575.2 480.5 L576.0 480.8 L576.8 481.1 L577.5 481.4 L578.2 481.7 L579.0 482.0 L579.8 482.3 L580.5 482.6 L581.2 483.0 L582.0 483.3 L582.8 483.6 L583.5 484.0 L584.2 484.3 L585.0 484.7 L585.8 485.0 L586.5 485.4 L587.2 485.8 L588.0 486.2 L588.8 486.5 L589.5 486.9 L590.2 487.3 L591.0 487.7 L591.8 488.1 L592.5 488.5 L593.2 488.9 L594.0 489.3 L594.8 489.7 L595.5 490.1 L596.2 490.5 L597.0 490.9 L597.8 491.3 L598.5 491.7 L599.2 492.2 L600.0 492.6 L600.8 493.0 L601.5 493.4 L602.2 493.8 L603.0 494.2 L603.8 494.7 L604.5 495.1 L605.2 495.5 L606.0 495.9 L606.8 496.4 L607.5 496.8 L608.2 497.2 L609.0 497.7 L609.8 498.1 L610.5 498.6 L611.2 499.0 L612.0 499.4 L612.8 499.9 L613.5 500.3 L614.2 500.8 L615.0 501.2 L615.8 501.7 L616.5 502.1 L617.2 502.6 L618.0 503.0 L618.8 503.5 L619.5 503.9 L620.2 504.4 L621.0 504.8 L621.8 505.2 L622.5 505.7 L623.2 506.1 L624.0 506.6 L624.8 507.0 L625.5 507.4 L626.2 507.9 L627.0 508.3 L627.8 508.8 L628.5 509.2 L629.2 509.7 L630.0 510.2 L630.8 510.6 L631.5 511.1 L632.2 511.6 L633.0 512.1 L633.8 512.6 L634.5 513.1 L635.2 513.6 L636.0 514.2 L636.8 514.7 L637.5 515.2 L638.2 515.7 L639.0 516.2 L639.8 516.7 L640.5 517.2 L641.2 517.7 L642.0 518.2 L642.8 518.6 L643.5 519.1 L644.2 519.5 L645.0 519.9 L645.8 520.4 L646.5 520.8 L647.2 521.2 L648.0 521.6 L648.8 522.0 L649.5 522.4 L650.2 522.8 L651.0 523.2 L651.8 523.5 L652.5 523.9 L653.2 524.3 L654.0 524.7 L654.8 525.1 L655.5 525.5 L656.2 525.8 L657.0 526.2 L657.8 526.6 L658.5 526.9 L659.2 527.3 L660.0 527.7 L660.8 528.0 L661.5 528.4 L662.2 528.8 L663.0 529.1 L663.8 529.5 L664.5 529.8 L665.2 530.2 L666.0 530.5 L666.8 530.9 L667.5 531.2 L668.2 531.6 L669.0 532.0 L669.8 532.3 L670.5 532.7 L671.2 533.1 L672.0 533.4 L672.8 533.8 L673.5 534.2 L674.2 534.5 L675.0 534.9 L675.8 535.2 L676.5 535.5 L677.2 535.9 L678.0 536.2 L678.8 536.5 L679.5 536.8 L680.2 537.1 L681.0 537.4 L681.8 537.7 L682.5 537.9 L683.2 538.2 L684.0 538.5 L684.8 538.7 L685.5 539.0 L686.2 539.2 L687.0 539.5 L687.8 539.7 L688.5 540.0 L689.2 540.2 L690.0 540.4 L690.8 540.7 L691.5 540.9 L692.2 541.1 L693.0 541.3 L693.8 541.5 L694.5 541.7 L695.2 541.9 L696.0 542.0 L696.8 542.2 L697.5 542.4 L698.2 542.6 L699.0 542.8 L699.8 542.9 L700.5 543.1 L701.2 543.3 L702.0 543.4 L702.8 543.6 L703.5 543.7 L704.2 543.9 L705.0 544.0 L705.8 544.2 L706.5 544.3 L707.2 544.4 L708.0 544.5 L708.8 544.6 L709.5 544.7 L710.2 544.8 L711.0 544.9 L711.8 545.0 L712.5 545.1 L713.2 545.2 L714.0 545.3 L714.8 545.4 L715.5 545.5 L716.2 545.5 L717.0 545.6 L717.8 545.7 L718.5 545.8 L719.2 545.8 L720.0 545.9 L720.8 546.0 L721.5 546.0 L722.2 546.1 L723.0 546.1 L723.8 546.2 L724.5 546.2 L725.2 546.2 L726.0 546.3 L726.8 546.3 L727.5 546.3 L728.2 546.3 L729.0 546.3 L729.8 546.3 L730.5 546.3 L731.2 546.3 L732.0 546.3 L732.8 546.3 L733.5 546.3 L734.2 546.3 L735.0 546.3 L735.8 546.3 L736.5 546.3 L737.2 546.3 L738.0 546.2 L738.8 546.2 L739.5 546.2 L740.2 546.2 L741.0 546.2 L741.8 546.2 L742.5 546.2 L743.2 546.2 L744.0 546.2 L744.8 546.2 L745.5 546.1 L746.2 546.1 L747.0 546.1 L747.8 546.1 L748.5 546.1 L749.2 546.0 L750.0 545.9 L750.8 545.8 L751.5 545.7 L752.2 545.6 L753.0 545.5 L753.8 545.3 L754.5 545.2 L755.2 545.0 L756.0 544.8 L756.8 544.6 L757.5 544.5 L758.2 544.3 L759.0 544.1 L759.8 544.0 L760.5 543.8 L761.2 543.6 L762.0 543.5 L762.8 543.3 L763.5 543.2 L764.2 543.0 L765.0 542.9 L765.8 542.7 L766.5 542.5 L767.2 542.4 L768.0 542.2 L768.8 542.0 L769.5 541.8 L770.2 541.6 L771.0 541.5 L771.8 541.2 L772.5 541.0 L773.2 540.8 L774.0 540.6 L774.8 540.4 L775.5 540.1 L776.2 539.8 L777.0 539.5 L777.8 539.2 L778.5 538.9 L779.2 538.5 L780.0 538.2 L780.8 537.8 L781.5 537.4 L782.2 537.1 L783.0 536.7 L783.8 536.3 L784.5 536.0 L785.2 535.6 L786.0 535.2 L786.8 534.9 L787.5 534.5 L788.2 534.2 L789.0 533.8 L789.8 533.5 L790.5 533.2 L791.2 532.8 L792.0 532.5 L792.8 532.2 L793.5 531.8 L794.2 531.5 L795.0 531.1 L795.8 530.8 L796.5 530.4 L797.2 530.0 L798.0 529.7 L798.8 529.3 L799.5 528.9 L800.2 528.4 L801.0 528.0 L801.8 527.5 L802.5 527.0 L803.2 526.5 L804.0 526.0 L804.8 525.5 L805.5 525.0 L806.2 524.5 L807.0 523.9 L807.8 523.4 L808.5 522.8 L809.2 522.3 L810.0 521.8 L810.8 521.2 L811.5 520.7 L812.2 520.2 L813.0 519.6 L813.8 519.1 L814.5 518.5 L815.2 518.0 L816.0 517.4 L816.8 516.9 L817.5 516.3 L818.2 515.8 L819.0 515.2 L819.8 514.6 L820.5 514.1 L821.2 513.5 L822.0 513.0 L822.8 512.4 L823.5 511.9 L824.2 511.3 L825.0 510.8 L825.8 510.2 L826.5 509.6 L827.2 509.1 L828.0 508.5 L828.8 508.0 L829.5 507.4 L830.2 506.8 L831.0 506.3 L831.8 505.7 L832.5 505.1 L833.2 504.5 L834.0 503.9 L834.8 503.3 L835.5 502.7 L836.2 502.0 L837.0 501.4 L837.8 500.8 L838.5 500.1 L839.2 499.5 L840.0 498.8 L840.8 498.1 L841.5 497.4 L842.2 496.8 L843.0 496.1 L843.8 495.3 L844.5 494.6 L845.2 493.9 L846.0 493.1 L846.8 492.4 L847.5 491.6 L848.2 490.8 L849.0 490.0 L849.8 489.2 L850.5 488.4 L851.2 487.6 L852.0 486.8 L852.8 486.0 L853.5 485.2 L854.2 484.4 L855.0 483.7 L855.8 482.9 L856.5 482.1 L857.2 481.4 L858.0 480.6 L858.8 479.9 L859.5 479.1 L860.2 478.3 L861.0 477.6 L861.8 476.8 L862.5 476.0 L863.2 475.3 L864.0 474.5 L864.8 473.7 L865.5 473.0 L866.2 472.2 L867.0 471.4 L867.8 470.7 L868.5 469.9 L869.2 469.1 L870.0 468.3 L870.8 467.5 L871.5 466.6 L872.2 465.7 L873.0 464.8 L873.8 463.8 L874.5 462.7 L875.2 461.7 L876.0 460.5 L876.8 459.4 L877.5 458.2 L878.2 457.0 L879.0 455.7 L879.8 454.4 L880.0 454.0" stroke="#231f20" stroke-width="6.4" stroke-linecap="round" stroke-dasharray="0 13.85" stroke-dashoffset="-3.40"/>
<path d="M109.0 561.5 L110.5 561.6 L112.0 561.6 L113.5 561.7 L115.0 561.8 L116.5 561.8 L118.0 561.9 L119.5 562.0 L121.0 562.0 L122.5 562.1 L124.0 562.2 L125.5 562.3 L127.0 562.3 L128.5 562.4 L130.0 562.5 L131.5 562.5 L133.0 562.6 L134.5 562.7 L136.0 562.7 L137.5 562.8 L139.0 562.9 L140.5 563.0 L142.0 563.0 L143.5 563.1 L145.0 563.2 L146.5 563.3 L148.0 563.4 L149.5 563.5 L151.0 563.6 L152.5 563.6 L154.0 563.7 L155.5 563.8 L157.0 563.8 L158.5 563.9 L160.0 563.9 L161.5 563.9 L163.0 563.9 L164.5 563.9 L166.0 563.8 L167.5 563.8 L169.0 563.8 L170.5 563.7 L172.0 563.6 L173.5 563.6 L175.0 563.5 L176.5 563.4 L178.0 563.4 L179.5 563.3 L181.0 563.2 L182.5 563.1 L184.0 563.1 L185.5 563.0 L187.0 563.0 L188.5 562.9 L190.0 562.9 L191.5 562.9 L193.0 562.8 L194.5 562.8 L196.0 562.7 L197.5 562.7 L199.0 562.6 L200.5 562.6 L202.0 562.5 L203.5 562.4 L205.0 562.3 L206.5 562.2 L208.0 562.0 L209.5 561.9 L211.0 561.7 L212.5 561.6 L214.0 561.4 L215.5 561.2 L217.0 561.0 L218.5 560.8 L220.0 560.6 L221.5 560.3 L223.0 560.1 L224.5 559.7 L226.0 559.4 L227.5 559.0 L229.0 558.6 L230.5 558.2 L232.0 557.8 L233.5 557.4 L235.0 557.0 L236.5 556.5 L238.0 556.0 L239.5 555.5 L241.0 555.0 L242.5 554.5 L244.0 554.0 L245.5 553.4 L247.0 552.9 L248.5 552.4 L250.0 551.8 L251.5 551.2 L253.0 550.7 L254.5 550.1 L256.0 549.6 L257.5 549.1 L259.0 548.6 L260.5 548.2 L262.0 547.9 L263.5 547.6 L265.0 547.3 L266.5 547.0 L268.0 546.7 L269.5 546.4 L271.0 546.2 L272.5 545.9 L274.0 545.6 L275.5 545.4 L277.0 545.2 L278.5 544.9 L280.0 544.7 L281.5 544.4 L283.0 544.2 L284.5 543.9 L286.0 543.6 L287.5 543.2 L289.0 542.8 L290.5 542.3 L292.0 541.8 L293.5 541.3 L295.0 540.7 L296.5 540.1 L298.0 539.6 L299.5 539.0 L301.0 538.4 L302.5 537.8 L304.0 537.3 L305.5 536.7 L307.0 536.1 L308.5 535.5 L310.0 534.9 L311.5 534.2 L313.0 533.6 L314.5 532.9 L316.0 532.3 L317.5 531.6 L319.0 531.0 L320.5 530.3 L322.0 529.5 L323.5 528.7 L325.0 527.8 L326.5 526.9 L328.0 525.8 L329.5 524.6 L331.0 523.3 L332.5 522.0 L334.0 520.6 L335.5 519.1 L337.0 517.5 L338.5 515.8 L340.0 514.1 L341.5 512.5 L343.0 511.0 L344.5 509.7 L346.0 508.4 L347.5 507.1 L349.0 505.8 L350.5 504.6 L352.0 503.3 L353.5 502.1 L355.0 500.8 L356.5 499.5 L358.0 498.2 L359.5 496.9 L361.0 495.6 L362.5 494.3 L364.0 493.0 L365.5 491.6 L367.0 490.1 L368.5 488.5 L370.0 486.8 L371.5 484.9 L373.0 483.1 L374.5 481.2 L376.0 479.3 L377.5 477.3 L379.0 475.4 L380.5 473.3 L382.0 471.3 L383.5 469.1 L385.0 466.9 L386.5 464.6 L388.0 462.2 L389.5 459.9 L391.0 457.6 L392.5 455.5 L394.0 453.3 L395.5 451.3 L397.0 449.4 L398.5 447.6 L400.0 446.0 L401.5 444.4 L403.0 442.9 L404.5 441.5 L406.0 440.1 L407.5 438.6 L409.0 437.3 L410.5 435.9 L412.0 434.6 L413.5 433.3 L415.0 432.0 L416.5 430.8 L418.0 429.6 L419.5 428.3 L421.0 427.0 L422.5 425.7 L424.0 424.4 L425.5 423.0 L427.0 421.6 L428.5 420.1 L430.0 418.6 L431.5 416.8 L433.0 415.0 L434.5 413.1 L436.0 411.3 L437.5 409.7 L439.0 408.1 L440.5 406.6 L442.0 405.1 L443.5 403.7 L445.0 402.3 L446.5 401.0 L448.0 399.7 L449.5 398.5 L451.0 397.3 L452.5 396.2 L454.0 395.1 L455.5 394.0 L457.0 392.9 L458.5 391.9 L460.0 391.0 L461.5 390.0 L463.0 389.1 L464.5 388.3 L466.0 387.4 L467.5 386.7 L469.0 385.9 L470.5 385.1 L472.0 384.4 L473.5 383.7 L475.0 383.0 L476.5 382.4 L478.0 381.8 L479.5 381.2 L481.0 380.7 L482.5 380.3 L484.0 379.9 L485.5 379.4 L487.0 379.0 L488.5 378.6 L490.0 378.2 L491.5 377.9 L493.0 377.6 L494.5 377.3 L496.0 377.2 L497.5 377.0 L499.0 377.0 L500.5 377.0 L502.0 377.1 L503.5 377.2 L505.0 377.3 L506.5 377.5 L508.0 377.6 L509.5 377.8 L511.0 378.0 L512.5 378.3 L514.0 378.5 L515.5 378.7 L517.0 379.0 L518.5 379.3 L520.0 379.6 L521.5 380.0 L523.0 380.5 L524.5 380.9 L526.0 381.4 L527.5 381.9 L529.0 382.5 L530.5 383.1 L532.0 383.6 L533.5 384.3 L535.0 385.0 L536.5 385.7 L538.0 386.5 L539.5 387.3 L541.0 388.2 L542.5 389.2 L544.0 390.1 L545.5 391.1 L547.0 392.1 L548.5 393.1 L550.0 394.1 L551.5 395.2 L553.0 396.3 L554.5 397.5 L556.0 398.7 L557.5 399.9 L559.0 401.2 L560.5 402.5 L562.0 403.8 L563.5 405.1 L565.0 406.4 L566.5 407.7 L568.0 409.0 L569.5 410.4 L571.0 411.8 L572.5 413.2 L574.0 414.6 L575.5 416.1 L577.0 417.5 L578.5 418.9 L580.0 420.3 L581.5 421.7 L583.0 423.0 L584.5 424.4 L586.0 425.8 L587.5 427.1 L589.0 428.5 L590.5 429.8 L592.0 431.2 L593.5 432.5 L595.0 433.9 L596.5 435.2 L598.0 436.6 L599.5 438.0 L601.0 439.3 L602.5 440.7 L604.0 442.2 L605.5 443.6 L607.0 445.1 L608.5 446.6 L610.0 448.1 L611.5 449.6 L613.0 451.2 L614.5 452.7 L616.0 454.2 L617.5 455.7 L619.0 457.2 L620.5 458.7 L622.0 460.2 L623.5 461.8 L625.0 463.3 L626.5 464.8 L628.0 466.2 L629.5 467.7 L631.0 469.2 L632.5 470.6 L634.0 472.0 L635.5 473.5 L637.0 474.9 L638.5 476.3 L640.0 477.7 L641.5 479.0 L643.0 480.4 L644.5 481.8 L646.0 483.1 L647.5 484.4 L649.0 485.7 L650.5 487.0 L652.0 488.2 L653.5 489.5 L655.0 490.8 L656.5 492.1 L658.0 493.4 L659.5 494.7 L661.0 496.0 L662.5 497.3 L664.0 498.6 L665.5 499.9 L667.0 501.2 L668.5 502.5 L670.0 503.8 L671.5 505.1 L673.0 506.4 L674.5 507.8 L676.0 509.1 L677.5 510.5 L679.0 511.8 L680.5 513.0 L682.0 514.2 L683.5 515.4 L685.0 516.5 L686.5 517.5 L688.0 518.5 L689.5 519.5 L691.0 520.5 L692.5 521.4 L694.0 522.4 L695.5 523.4 L697.0 524.4 L698.5 525.4 L700.0 526.5 L701.5 527.5 L703.0 528.6 L704.5 529.6 L706.0 530.6 L707.5 531.6 L709.0 532.6 L710.5 533.5 L712.0 534.4 L713.5 535.4 L715.0 536.2 L716.5 537.1 L718.0 537.9 L719.5 538.6 L721.0 539.2 L722.5 539.8 L724.0 540.3 L725.5 540.8 L727.0 541.3 L728.5 541.8 L730.0 542.2 L731.5 542.6 L733.0 542.9 L734.5 543.3 L736.0 543.6 L737.5 543.9 L739.0 544.2 L740.5 544.5 L742.0 544.7 L743.5 544.9 L745.0 545.0 L746.5 545.1 L748.0 545.2 L749.5 545.2 L751.0 545.3 L752.5 545.3 L754.0 545.4 L755.5 545.4 L757.0 545.4 L758.5 545.5 L760.0 545.5 L761.5 545.5 L763.0 545.6 L764.5 545.6 L766.0 545.7 L767.5 545.7 L769.0 545.8 L770.5 545.8 L772.0 545.9 L773.5 546.0 L775.0 546.1 L776.5 546.2 L778.0 546.3 L779.5 546.4 L781.0 546.5 L782.5 546.6 L784.0 546.7 L785.5 546.8 L787.0 546.9 L788.5 547.0 L790.0 547.1 L791.5 547.2 L793.0 547.3 L794.5 547.4 L796.0 547.5 L797.5 547.6 L799.0 547.7 L800.5 547.8 L802.0 547.9 L803.5 548.0 L805.0 548.1 L806.5 548.2 L808.0 548.2 L809.5 548.3 L811.0 548.3 L812.5 548.4 L814.0 548.4 L815.5 548.4 L817.0 548.5 L818.5 548.5 L820.0 548.5 L821.5 548.5 L823.0 548.6 L824.5 548.6 L826.0 548.6 L827.5 548.6 L829.0 548.6 L830.5 548.6 L832.0 548.6 L833.5 548.6 L835.0 548.5 L836.5 548.5 L838.0 548.4 L839.5 548.4 L841.0 548.3 L842.5 548.2 L844.0 548.2 L845.5 548.1 L847.0 548.0 L848.5 547.9 L850.0 547.8 L851.5 547.6 L853.0 547.4 L854.5 547.1 L856.0 546.8 L857.5 546.5 L859.0 546.1 L860.5 545.7 L862.0 545.3 L863.5 545.0 L865.0 544.6 L866.5 544.2 L868.0 543.7 L869.5 543.3 L871.0 542.8 L872.5 542.3 L874.0 541.8 L875.5 541.3 L877.0 540.8 L878.5 540.2 L879.0 540.0" stroke="#939598" stroke-width="5.9"/>
<path d="M110.5 430.3 L111.2 431.0 L112.0 431.8 L112.8 432.5 L113.5 433.2 L114.2 433.9 L115.0 434.6 L115.8 435.3 L116.5 436.0 L117.2 436.7 L118.0 437.4 L118.8 438.1 L119.5 438.7 L120.2 439.4 L121.0 440.0 L121.8 440.7 L122.5 441.3 L123.2 441.9 L124.0 442.5 L124.8 443.1 L125.5 443.7 L126.2 444.3 L127.0 444.9 L127.8 445.5 L128.5 446.1 L129.2 446.6 L130.0 447.2 L130.8 447.8 L131.5 448.4 L132.2 449.0 L133.0 449.6 L133.8 450.1 L134.5 450.7 L135.2 451.3 L136.0 451.9 L136.8 452.5 L137.5 453.1 L138.2 453.7 L139.0 454.2 L139.8 454.8 L140.5 455.4 L141.2 455.9 L142.0 456.5 L142.8 457.0 L143.5 457.6 L144.2 458.1 L145.0 458.6 L145.8 459.1 L146.5 459.6 L147.2 460.1 L148.0 460.6 L148.8 461.1 L149.5 461.6 L150.2 462.0 L151.0 462.5 L151.8 463.0 L152.5 463.5 L153.2 464.0 L154.0 464.6 L154.8 465.1 L155.5 465.6 L156.2 466.1 L157.0 466.7 L157.8 467.2 L158.5 467.8 L159.2 468.3 L160.0 468.9 L160.8 469.4 L161.5 470.0 L162.2 470.5 L163.0 471.1 L163.8 471.7 L164.5 472.2 L165.2 472.8 L166.0 473.4 L166.8 474.0 L167.5 474.5 L168.2 475.1 L169.0 475.7 L169.8 476.3 L170.5 476.9 L171.2 477.5 L172.0 478.1 L172.8 478.6 L173.5 479.2 L174.2 479.8 L175.0 480.4 L175.8 481.0 L176.5 481.6 L177.2 482.2 L178.0 482.7 L178.8 483.3 L179.5 483.9 L180.2 484.5 L181.0 485.1 L181.8 485.6 L182.5 486.2 L183.2 486.8 L184.0 487.4 L184.8 488.0 L185.5 488.5 L186.2 489.1 L187.0 489.7 L187.8 490.3 L188.5 490.9 L189.2 491.4 L190.0 492.0 L190.8 492.6 L191.5 493.2 L192.2 493.8 L193.0 494.4 L193.8 495.0 L194.5 495.6 L195.2 496.2 L196.0 496.8 L196.8 497.3 L197.5 497.9 L198.2 498.4 L199.0 499.0 L199.8 499.5 L200.5 500.0 L201.2 500.5 L202.0 501.0 L202.8 501.5 L203.5 502.0 L204.2 502.5 L205.0 503.0 L205.8 503.4 L206.5 503.9 L207.2 504.4 L208.0 504.9 L208.8 505.4 L209.5 505.9 L210.2 506.4 L211.0 506.9 L211.8 507.4 L212.5 507.9 L213.2 508.4 L214.0 508.9 L214.8 509.4 L215.5 509.9 L216.2 510.4 L217.0 510.9 L217.8 511.4 L218.5 511.9 L219.2 512.4 L220.0 512.9 L220.8 513.4 L221.5 513.8 L222.2 514.3 L223.0 514.8 L223.8 515.2 L224.5 515.7 L225.2 516.1 L226.0 516.5 L226.8 517.0 L227.5 517.4 L228.2 517.9 L229.0 518.3 L229.8 518.7 L230.5 519.1 L231.2 519.5 L232.0 519.9 L232.8 520.3 L233.5 520.7 L234.2 521.1 L235.0 521.5 L235.8 521.8 L236.5 522.2 L237.2 522.5 L238.0 522.9 L238.8 523.2 L239.5 523.6 L240.2 523.9 L241.0 524.3 L241.8 524.6 L242.5 524.9 L243.2 525.2 L244.0 525.6 L244.8 525.9 L245.5 526.2 L246.2 526.5 L247.0 526.8 L247.8 527.1 L248.5 527.4 L249.2 527.8 L250.0 528.0 L250.8 528.3 L251.5 528.6 L252.2 528.9 L253.0 529.2 L253.8 529.5 L254.5 529.8 L255.2 530.1 L256.0 530.4 L256.8 530.6 L257.5 530.9 L258.2 531.2 L259.0 531.5 L259.8 531.7 L260.5 532.0 L261.2 532.3 L262.0 532.5 L262.8 532.8 L263.5 533.1 L264.2 533.3 L265.0 533.6 L265.8 533.9 L266.5 534.1 L267.2 534.4 L268.0 534.6 L268.8 534.9 L269.5 535.1 L270.2 535.4 L271.0 535.6 L271.8 535.9 L272.5 536.1 L273.2 536.4 L274.0 536.6 L274.8 536.9 L275.5 537.1 L276.2 537.4 L277.0 537.7 L277.8 537.9 L278.5 538.2 L279.2 538.4 L280.0 538.6 L280.8 538.9 L281.5 539.1 L282.2 539.3 L283.0 539.5 L283.8 539.7 L284.5 539.9 L285.2 540.1 L286.0 540.2 L286.8 540.4 L287.5 540.5 L288.2 540.7 L289.0 540.8 L289.8 540.9 L290.5 541.0 L291.2 541.2 L292.0 541.3 L292.8 541.4 L293.5 541.5 L294.2 541.6 L295.0 541.7 L295.8 541.8 L296.5 541.9 L297.2 542.0 L298.0 542.1 L298.8 542.1 L299.5 542.2 L300.2 542.3 L301.0 542.4 L301.8 542.5 L302.5 542.6 L303.2 542.7 L304.0 542.7 L304.8 542.8 L305.5 542.9 L306.2 543.0 L307.0 543.0 L307.8 543.1 L308.5 543.1 L309.2 543.2 L310.0 543.2 L310.8 543.3 L311.5 543.3 L312.2 543.3 L313.0 543.3 L313.8 543.3 L314.5 543.3 L315.2 543.3 L316.0 543.2 L316.8 543.2 L317.5 543.2 L318.2 543.2 L319.0 543.1 L319.8 543.1 L320.5 543.1 L321.2 543.0 L322.0 543.0 L322.8 543.0 L323.5 543.0 L324.2 542.9 L325.0 542.9 L325.8 542.9 L326.5 542.9 L327.2 542.9 L328.0 542.9 L328.8 542.9 L329.5 543.0 L330.2 543.0 L331.0 543.1 L331.8 543.1 L332.5 543.2 L333.2 543.3 L334.0 543.3 L334.8 543.4 L335.5 543.5 L336.2 543.5 L337.0 543.6 L337.8 543.6 L338.5 543.7 L339.2 543.7 L340.0 543.7 L340.8 543.7 L341.5 543.7 L342.2 543.7 L343.0 543.6 L343.8 543.6 L344.5 543.6 L345.2 543.5 L346.0 543.5 L346.8 543.4 L347.5 543.3 L348.2 543.2 L349.0 543.1 L349.8 543.1 L350.5 543.0 L351.2 542.9 L352.0 542.8 L352.8 542.7 L353.5 542.6 L354.2 542.5 L355.0 542.3 L355.8 542.2 L356.5 542.0 L357.2 541.8 L358.0 541.6 L358.8 541.4 L359.5 541.1 L360.2 540.9 L361.0 540.6 L361.8 540.3 L362.5 540.0 L363.2 539.7 L364.0 539.4 L364.8 539.1 L365.5 538.8 L366.2 538.5 L367.0 538.3 L367.8 538.0 L368.5 537.8 L369.2 537.5 L370.0 537.3 L370.8 537.0 L371.5 536.8 L372.2 536.5 L373.0 536.3 L373.8 536.0 L374.5 535.8 L375.2 535.5 L376.0 535.3 L376.8 535.0 L377.5 534.8 L378.2 534.5 L379.0 534.3 L379.8 534.0 L380.5 533.8 L381.2 533.5 L382.0 533.3 L382.8 533.0 L383.5 532.8 L384.2 532.5 L385.0 532.3 L385.8 532.0 L386.5 531.8 L387.2 531.5 L388.0 531.3 L388.8 531.0 L389.5 530.8 L390.2 530.5 L391.0 530.3 L391.8 530.0 L392.5 529.8 L393.2 529.5 L394.0 529.3 L394.8 529.0 L395.5 528.7 L396.2 528.5 L397.0 528.2 L397.8 527.9 L398.5 527.7 L399.2 527.4 L400.0 527.1 L400.8 526.9 L401.5 526.6 L402.2 526.3 L403.0 526.0 L403.8 525.8 L404.5 525.5 L405.2 525.2 L406.0 524.9 L406.8 524.6 L407.5 524.4 L408.2 524.1 L409.0 523.8 L409.8 523.5 L410.5 523.3 L411.2 523.0 L412.0 522.7 L412.8 522.4 L413.5 522.2 L414.2 521.9 L415.0 521.6 L415.8 521.3 L416.5 521.0 L417.2 520.7 L418.0 520.4 L418.8 520.1 L419.5 519.8 L420.2 519.5 L421.0 519.2 L421.8 518.9 L422.5 518.6 L423.2 518.3 L424.0 517.9 L424.8 517.6 L425.5 517.3 L426.2 516.9 L427.0 516.6 L427.8 516.2 L428.5 515.9 L429.2 515.5 L430.0 515.2 L430.8 514.8 L431.5 514.5 L432.2 514.1 L433.0 513.8 L433.8 513.4 L434.5 513.0 L435.2 512.7 L436.0 512.3 L436.8 511.9 L437.5 511.6 L438.2 511.2 L439.0 510.8 L439.8 510.5 L440.5 510.1 L441.2 509.7 L442.0 509.3 L442.8 508.9 L443.5 508.6 L444.2 508.2 L445.0 507.8 L445.8 507.4 L446.5 507.0 L447.2 506.6 L448.0 506.2 L448.8 505.9 L449.5 505.5 L450.2 505.1 L451.0 504.7 L451.8 504.3 L452.5 503.9 L453.2 503.5 L454.0 503.1 L454.8 502.7 L455.5 502.3 L456.2 501.9 L457.0 501.5 L457.8 501.2 L458.5 500.8 L459.2 500.5 L460.0 500.1 L460.8 499.7 L461.5 499.4 L462.2 499.0 L463.0 498.7 L463.8 498.3 L464.5 498.0 L465.2 497.7 L466.0 497.3 L466.8 497.0 L467.5 496.7 L468.2 496.3 L469.0 496.0 L469.8 495.7 L470.5 495.4 L471.2 495.0 L472.0 494.7 L472.8 494.4 L473.5 494.1 L474.2 493.7 L475.0 493.4 L475.8 493.1 L476.5 492.8 L477.2 492.5 L478.0 492.2 L478.8 491.9 L479.5 491.6 L480.2 491.3 L481.0 491.0 L481.8 490.8 L482.5 490.6 L483.2 490.3 L484.0 490.1 L484.8 489.9 L485.5 489.7 L486.2 489.5 L487.0 489.3 L487.8 489.1 L488.5 488.9 L489.2 488.7 L490.0 488.6 L490.8 488.4 L491.5 488.2 L492.2 488.1 L493.0 487.9 L493.8 487.7 L494.5 487.6 L495.2 487.4 L496.0 487.3 L496.8 487.1 L497.5 487.0 L498.2 486.8 L499.0 486.7 L499.8 486.5 L500.5 486.4 L501.2 486.3 L502.0 486.1 L502.8 486.0 L503.5 485.9 L504.2 485.7 L505.0 485.6 L505.8 485.5 L506.5 485.4 L507.2 485.3 L508.0 485.2 L508.8 485.1 L509.5 485.0 L510.2 484.9 L511.0 484.8 L511.8 484.7 L512.5 484.7 L513.2 484.6 L514.0 484.5 L514.8 484.4 L515.5 484.4 L516.2 484.3 L517.0 484.2 L517.8 484.2 L518.5 484.1 L519.2 484.1 L520.0 484.0 L520.8 484.0 L521.5 483.9 L522.2 483.9 L523.0 483.9 L523.8 483.9 L524.5 483.9 L525.2 483.9 L526.0 484.0 L526.8 484.0 L527.5 484.1 L528.2 484.2 L529.0 484.3 L529.8 484.4 L530.5 484.5 L531.2 484.6 L532.0 484.8 L532.8 484.9 L533.5 485.0 L534.2 485.1 L535.0 485.3 L535.8 485.4 L536.5 485.5 L537.2 485.6 L538.0 485.7 L538.8 485.8 L539.5 485.9 L540.2 486.0 L541.0 486.1 L541.8 486.2 L542.5 486.3 L543.2 486.3 L544.0 486.4 L544.8 486.5 L545.5 486.6 L546.2 486.7 L547.0 486.8 L547.8 486.9 L548.5 487.0 L549.2 487.1 L550.0 487.2 L550.8 487.4 L551.5 487.5 L552.2 487.7 L553.0 487.8 L553.8 488.0 L554.5 488.2 L555.2 488.5 L556.0 488.7 L556.8 489.0 L557.5 489.3 L558.2 489.6 L559.0 489.9 L559.8 490.3 L560.5 490.6 L561.2 490.9 L562.0 491.3 L562.8 491.6 L563.5 491.9 L564.2 492.3 L565.0 492.6 L565.8 492.9 L566.5 493.3 L567.2 493.6 L568.0 494.0 L568.8 494.3 L569.5 494.7 L570.2 495.1 L571.0 495.5 L571.8 495.8 L572.5 496.2 L573.2 496.6 L574.0 497.0 L574.8 497.3 L575.5 497.7 L576.2 498.1 L577.0 498.4 L577.8 498.7 L578.5 499.1 L579.2 499.4 L580.0 499.7 L580.8 500.0 L581.5 500.4 L582.2 500.7 L583.0 501.0 L583.8 501.3 L584.5 501.6 L585.2 501.9 L586.0 502.2 L586.8 502.5 L587.5 502.9 L588.2 503.2 L589.0 503.5 L589.8 503.9 L590.5 504.2 L591.2 504.6 L592.0 504.9 L592.8 505.3 L593.5 505.7 L594.2 506.1 L595.0 506.5 L595.8 506.9 L596.5 507.3 L597.2 507.7 L598.0 508.1 L598.8 508.5 L599.5 508.9 L600.2 509.3 L601.0 509.7 L601.8 510.1 L602.5 510.4 L603.2 510.8 L604.0 511.1 L604.8 511.5 L605.5 511.8 L606.2 512.1 L607.0 512.5 L607.8 512.8 L608.5 513.1 L609.2 513.4 L610.0 513.8 L610.8 514.1 L611.5 514.4 L612.2 514.7 L613.0 515.1 L613.8 515.4 L614.5 515.8 L615.2 516.1 L616.0 516.5 L616.8 516.8 L617.5 517.2 L618.2 517.6 L619.0 517.9 L619.8 518.3 L620.5 518.7 L621.2 519.1 L622.0 519.4 L622.8 519.8 L623.5 520.2 L624.2 520.6 L625.0 521.0 L625.8 521.4 L626.5 521.7 L627.2 522.1 L628.0 522.5 L628.8 522.9 L629.5 523.3 L630.2 523.7 L631.0 524.1 L631.8 524.5 L632.5 524.8 L633.2 525.2 L634.0 525.6 L634.8 526.0 L635.5 526.4 L636.2 526.8 L637.0 527.2 L637.8 527.6 L638.5 527.9 L639.2 528.3 L640.0 528.7 L640.8 529.1 L641.5 529.4 L642.2 529.8 L643.0 530.2 L643.8 530.6 L644.5 530.9 L645.2 531.3 L646.0 531.6 L646.8 532.0 L647.5 532.4 L648.2 532.7 L649.0 533.1 L649.8 533.4 L650.5 533.8 L651.2 534.1 L652.0 534.5 L652.8 534.9 L653.5 535.2 L654.2 535.6 L655.0 535.9 L655.8 536.3 L656.5 536.7 L657.2 537.0 L658.0 537.4 L658.8 537.7 L659.5 538.1 L660.2 538.4 L661.0 538.8 L661.8 539.1 L662.5 539.4 L663.2 539.7 L664.0 540.0 L664.8 540.3 L665.5 540.6 L666.2 540.8 L667.0 541.1 L667.8 541.3 L668.5 541.6 L669.2 541.8 L670.0 542.1 L670.8 542.3 L671.5 542.6 L672.2 542.8 L673.0 543.0 L673.8 543.2 L674.5 543.4 L675.2 543.6 L676.0 543.8 L676.8 544.0 L677.5 544.2 L678.2 544.3 L679.0 544.5 L679.8 544.7 L680.5 544.8 L681.2 545.0 L682.0 545.2 L682.8 545.3 L683.5 545.5 L684.2 545.7 L685.0 545.8 L685.8 545.9 L686.5 546.1 L687.2 546.2 L688.0 546.3 L688.8 546.4 L689.5 546.4 L690.2 546.5 L691.0 546.5 L691.8 546.5 L692.5 546.5 L693.2 546.5 L694.0 546.5 L694.8 546.5 L695.5 546.4 L696.2 546.4 L697.0 546.4 L697.8 546.4 L698.5 546.3 L699.2 546.3 L700.0 546.3 L700.8 546.2 L701.5 546.2 L702.2 546.2 L703.0 546.1 L703.8 546.1 L704.5 546.0 L705.2 546.0 L706.0 545.9 L706.8 545.9 L707.5 545.8 L708.2 545.8 L709.0 545.7 L709.8 545.6 L710.5 545.5 L711.2 545.4 L712.0 545.3 L712.8 545.2 L713.5 545.1 L714.2 545.0 L715.0 544.9 L715.8 544.8 L716.5 544.7 L717.2 544.5 L718.0 544.4 L718.8 544.3 L719.5 544.2 L720.2 544.0 L721.0 543.9 L721.8 543.7 L722.5 543.6 L723.2 543.4 L724.0 543.2 L724.8 543.0 L725.5 542.8 L726.2 542.6 L727.0 542.4 L727.8 542.2 L728.5 542.0 L729.2 541.8 L730.0 541.6 L730.8 541.4 L731.5 541.2 L732.2 541.0 L733.0 540.8 L733.8 540.5 L734.5 540.3 L735.2 540.1 L736.0 539.9 L736.8 539.7 L737.5 539.4 L738.2 539.2 L739.0 539.0 L739.8 538.7 L740.5 538.5 L741.2 538.2 L742.0 538.0 L742.8 537.7 L743.5 537.4 L744.2 537.2 L745.0 536.9 L745.8 536.6 L746.5 536.2 L747.2 535.9 L748.0 535.5 L748.8 535.2 L749.5 534.8 L750.2 534.3 L751.0 533.9 L751.8 533.5 L752.5 533.0 L753.2 532.6 L754.0 532.1 L754.8 531.7 L755.5 531.2 L756.2 530.8 L757.0 530.3 L757.8 529.9 L758.5 529.4 L759.2 529.0 L760.0 528.5 L760.8 528.0 L761.5 527.6 L762.2 527.1 L763.0 526.6 L763.8 526.1 L764.5 525.7 L765.2 525.2 L766.0 524.7 L766.8 524.2 L767.5 523.7 L768.2 523.3 L769.0 522.8 L769.8 522.3 L770.5 521.9 L771.2 521.5 L772.0 521.0 L772.8 520.6 L773.5 520.1 L774.2 519.7 L775.0 519.3 L775.8 518.8 L776.5 518.4 L777.2 518.0 L778.0 517.5 L778.8 517.1 L779.5 516.6 L780.2 516.2 L781.0 515.7 L781.8 515.2 L782.5 514.7 L783.2 514.2 L784.0 513.7 L784.8 513.2 L785.5 512.7 L786.2 512.2 L787.0 511.7 L787.8 511.2 L788.5 510.7 L789.2 510.1 L790.0 509.6 L790.8 509.0 L791.5 508.5 L792.2 507.9 L793.0 507.3 L793.8 506.7 L794.5 506.0 L795.2 505.4 L796.0 504.7 L796.8 504.1 L797.5 503.4 L798.2 502.7 L799.0 502.0 L799.8 501.3 L800.5 500.6 L801.2 499.9 L802.0 499.1 L802.8 498.4 L803.5 497.7 L804.2 497.0 L805.0 496.3 L805.8 495.6 L806.5 494.8 L807.2 494.1 L808.0 493.4 L808.8 492.6 L809.5 491.9 L810.2 491.2 L811.0 490.4 L811.8 489.7 L812.5 489.0 L813.2 488.3 L814.0 487.6 L814.8 486.9 L815.5 486.2 L816.2 485.5 L817.0 484.8 L817.8 484.2 L818.5 483.5 L819.2 482.8 L820.0 482.1 L820.8 481.4 L821.5 480.7 L822.2 480.0 L823.0 479.3 L823.8 478.6 L824.5 477.9 L825.2 477.1 L826.0 476.4 L826.8 475.7 L827.5 474.9 L828.2 474.2 L829.0 473.4 L829.8 472.7 L830.5 471.9 L831.2 471.1 L832.0 470.4 L832.8 469.6 L833.5 468.8 L834.2 468.0 L835.0 467.2 L835.8 466.4 L836.5 465.6 L837.2 464.7 L838.0 463.9 L838.8 463.1 L839.5 462.2 L840.2 461.3 L841.0 460.5 L841.8 459.5 L842.5 458.6 L843.2 457.7 L844.0 456.7 L844.8 455.7 L845.5 454.8 L846.2 453.7 L847.0 452.7 L847.8 451.7 L848.5 450.6 L849.2 449.5 L850.0 448.5 L850.8 447.4 L851.5 446.3 L852.2 445.2 L853.0 444.0 L853.8 442.9 L854.5 441.7 L855.2 440.5 L856.0 439.3 L856.8 438.1 L857.5 437.0 L858.2 435.8 L859.0 434.6 L859.8 433.4 L860.5 432.2 L861.2 431.0 L862.0 429.7 L862.8 428.5 L863.5 427.4 L864.2 426.2 L865.0 425.0 L865.8 423.9 L866.5 422.9 L867.2 421.9 L868.0 420.9 L868.8 420.0 L869.5 419.0 L870.2 418.0 L871.0 417.1 L871.8 416.0 L872.5 414.9 L873.2 413.8 L874.0 412.5 L874.8 411.2 L875.5 409.8 L876.2 408.3 L877.0 406.7 L877.8 405.1 L878.5 403.5 L879.2 401.8 L880.0 400.0" stroke="#6d6e71" stroke-width="6.4" stroke-linecap="round" stroke-dasharray="0 13.87" stroke-dashoffset="-0.60"/>
<path d="M112.0 414.8 L112.8 415.6 L113.5 416.3 L114.2 417.1 L115.0 417.8 L115.8 418.6 L116.5 419.3 L117.2 420.0 L118.0 420.8 L118.8 421.5 L119.5 422.2 L120.2 422.9 L121.0 423.7 L121.8 424.4 L122.5 425.1 L123.2 425.8 L124.0 426.5 L124.8 427.2 L125.5 427.8 L126.2 428.5 L127.0 429.2 L127.8 429.9 L128.5 430.5 L129.2 431.2 L130.0 431.9 L130.8 432.5 L131.5 433.2 L132.2 433.8 L133.0 434.5 L133.8 435.1 L134.5 435.7 L135.2 436.4 L136.0 437.0 L136.8 437.6 L137.5 438.2 L138.2 438.8 L139.0 439.4 L139.8 440.0 L140.5 440.6 L141.2 441.2 L142.0 441.8 L142.8 442.4 L143.5 443.0 L144.2 443.6 L145.0 444.2 L145.8 444.8 L146.5 445.4 L147.2 446.1 L148.0 446.7 L148.8 447.4 L149.5 448.1 L150.2 448.8 L151.0 449.5 L151.8 450.2 L152.5 450.9 L153.2 451.5 L154.0 452.2 L154.8 452.8 L155.5 453.4 L156.2 454.0 L157.0 454.6 L157.8 455.1 L158.5 455.6 L159.2 456.1 L160.0 456.6 L160.8 457.1 L161.5 457.5 L162.2 458.0 L163.0 458.4 L163.8 458.9 L164.5 459.3 L165.2 459.8 L166.0 460.2 L166.8 460.6 L167.5 461.1 L168.2 461.6 L169.0 462.0 L169.8 462.5 L170.5 463.0 L171.2 463.5 L172.0 463.9 L172.8 464.4 L173.5 464.9 L174.2 465.4 L175.0 465.8 L175.8 466.3 L176.5 466.8 L177.2 467.3 L178.0 467.8 L178.8 468.3 L179.5 468.8 L180.2 469.3 L181.0 469.8 L181.8 470.3 L182.5 470.8 L183.2 471.3 L184.0 471.8 L184.8 472.3 L185.5 472.8 L186.2 473.3 L187.0 473.8 L187.8 474.3 L188.5 474.8 L189.2 475.4 L190.0 475.9 L190.8 476.4 L191.5 477.0 L192.2 477.5 L193.0 478.0 L193.8 478.6 L194.5 479.2 L195.2 479.7 L196.0 480.3 L196.8 480.8 L197.5 481.4 L198.2 482.0 L199.0 482.5 L199.8 483.1 L200.5 483.7 L201.2 484.2 L202.0 484.8 L202.8 485.3 L203.5 485.9 L204.2 486.4 L205.0 487.0 L205.8 487.5 L206.5 488.1 L207.2 488.6 L208.0 489.2 L208.8 489.7 L209.5 490.3 L210.2 490.8 L211.0 491.4 L211.8 491.9 L212.5 492.5 L213.2 493.0 L214.0 493.6 L214.8 494.2 L215.5 494.7 L216.2 495.3 L217.0 495.8 L217.8 496.4 L218.5 497.0 L219.2 497.5 L220.0 498.1 L220.8 498.6 L221.5 499.2 L222.2 499.7 L223.0 500.3 L223.8 500.8 L224.5 501.3 L225.2 501.8 L226.0 502.3 L226.8 502.8 L227.5 503.3 L228.2 503.8 L229.0 504.3 L229.8 504.7 L230.5 505.2 L231.2 505.7 L232.0 506.1 L232.8 506.6 L233.5 507.1 L234.2 507.5 L235.0 508.0 L235.8 508.4 L236.5 508.9 L237.2 509.4 L238.0 509.8 L238.8 510.3 L239.5 510.8 L240.2 511.2 L241.0 511.7 L241.8 512.1 L242.5 512.6 L243.2 513.1 L244.0 513.5 L244.8 514.0 L245.5 514.4 L246.2 514.9 L247.0 515.3 L247.8 515.8 L248.5 516.2 L249.2 516.6 L250.0 517.1 L250.8 517.5 L251.5 518.0 L252.2 518.4 L253.0 518.8 L253.8 519.3 L254.5 519.7 L255.2 520.1 L256.0 520.5 L256.8 521.0 L257.5 521.4 L258.2 521.8 L259.0 522.1 L259.8 522.5 L260.5 522.9 L261.2 523.3 L262.0 523.6 L262.8 524.0 L263.5 524.3 L264.2 524.6 L265.0 525.0 L265.8 525.3 L266.5 525.6 L267.2 525.9 L268.0 526.3 L268.8 526.6 L269.5 526.9 L270.2 527.2 L271.0 527.5 L271.8 527.8 L272.5 528.1 L273.2 528.4 L274.0 528.7 L274.8 529.0 L275.5 529.3 L276.2 529.6 L277.0 529.9 L277.8 530.1 L278.5 530.4 L279.2 530.7 L280.0 531.0 L280.8 531.3 L281.5 531.6 L282.2 531.8 L283.0 532.1 L283.8 532.4 L284.5 532.6 L285.2 532.9 L286.0 533.2 L286.8 533.4 L287.5 533.7 L288.2 533.9 L289.0 534.2 L289.8 534.4 L290.5 534.7 L291.2 534.9 L292.0 535.1 L292.8 535.4 L293.5 535.6 L294.2 535.8 L295.0 536.1 L295.8 536.3 L296.5 536.5 L297.2 536.7 L298.0 537.0 L298.8 537.2 L299.5 537.4 L300.2 537.6 L301.0 537.8 L301.8 538.0 L302.5 538.2 L303.2 538.3 L304.0 538.5 L304.8 538.7 L305.5 538.9 L306.2 539.1 L307.0 539.3 L307.8 539.4 L308.5 539.6 L309.2 539.8 L310.0 540.0 L310.8 540.1 L311.5 540.3 L312.2 540.4 L313.0 540.6 L313.8 540.8 L314.5 540.9 L315.2 541.0 L316.0 541.2 L316.8 541.3 L317.5 541.5 L318.2 541.6 L319.0 541.8 L319.8 541.9 L320.5 542.1 L321.2 542.2 L322.0 542.3 L322.8 542.5 L323.5 542.6 L324.2 542.7 L325.0 542.8 L325.8 543.0 L326.5 543.1 L327.2 543.2 L328.0 543.3 L328.8 543.4 L329.5 543.4 L330.2 543.5 L331.0 543.6 L331.8 543.7 L332.5 543.7 L333.2 543.8 L334.0 543.9 L334.8 543.9 L335.5 544.0 L336.2 544.1 L337.0 544.1 L337.8 544.2 L338.5 544.2 L339.2 544.3 L340.0 544.3 L340.8 544.4 L341.5 544.4 L342.2 544.5 L343.0 544.5 L343.8 544.5 L344.5 544.6 L345.2 544.6 L346.0 544.6 L346.8 544.7 L347.5 544.7 L348.2 544.8 L349.0 544.8 L349.8 544.8 L350.5 544.8 L351.2 544.9 L352.0 544.9 L352.8 544.9 L353.5 545.0 L354.2 545.0 L355.0 545.0 L355.8 545.0 L356.5 545.0 L357.2 545.0 L358.0 545.0 L358.8 545.0 L359.5 544.9 L360.2 544.9 L361.0 544.9 L361.8 544.8 L362.5 544.8 L363.2 544.7 L364.0 544.6 L364.8 544.6 L365.5 544.5 L366.2 544.4 L367.0 544.3 L367.8 544.2 L368.5 544.2 L369.2 544.1 L370.0 544.0 L370.8 543.8 L371.5 543.7 L372.2 543.5 L373.0 543.4 L373.8 543.2 L374.5 543.0 L375.2 542.8 L376.0 542.6 L376.8 542.4 L377.5 542.2 L378.2 542.0 L379.0 541.8 L379.8 541.6 L380.5 541.4 L381.2 541.3 L382.0 541.1 L382.8 540.9 L383.5 540.7 L384.2 540.6 L385.0 540.4 L385.8 540.3 L386.5 540.1 L387.2 539.9 L388.0 539.8 L388.8 539.6 L389.5 539.5 L390.2 539.3 L391.0 539.1 L391.8 538.9 L392.5 538.8 L393.2 538.6 L394.0 538.4 L394.8 538.2 L395.5 538.0 L396.2 537.8 L397.0 537.6 L397.8 537.3 L398.5 537.1 L399.2 536.8 L400.0 536.5 L400.8 536.3 L401.5 536.0 L402.2 535.7 L403.0 535.4 L403.8 535.2 L404.5 534.9 L405.2 534.6 L406.0 534.3 L406.8 534.1 L407.5 533.8 L408.2 533.6 L409.0 533.4 L409.8 533.1 L410.5 532.9 L411.2 532.7 L412.0 532.5 L412.8 532.2 L413.5 532.0 L414.2 531.8 L415.0 531.6 L415.8 531.4 L416.5 531.2 L417.2 531.0 L418.0 530.8 L418.8 530.6 L419.5 530.3 L420.2 530.1 L421.0 529.9 L421.8 529.7 L422.5 529.4 L423.2 529.2 L424.0 528.9 L424.8 528.7 L425.5 528.5 L426.2 528.2 L427.0 528.0 L427.8 527.7 L428.5 527.5 L429.2 527.2 L430.0 526.9 L430.8 526.7 L431.5 526.4 L432.2 526.2 L433.0 525.9 L433.8 525.6 L434.5 525.3 L435.2 525.1 L436.0 524.8 L436.8 524.5 L437.5 524.2 L438.2 523.9 L439.0 523.6 L439.8 523.3 L440.5 523.0 L441.2 522.6 L442.0 522.3 L442.8 522.0 L443.5 521.7 L444.2 521.4 L445.0 521.1 L445.8 520.7 L446.5 520.4 L447.2 520.1 L448.0 519.8 L448.8 519.5 L449.5 519.2 L450.2 518.9 L451.0 518.5 L451.8 518.2 L452.5 517.9 L453.2 517.6 L454.0 517.3 L454.8 517.0 L455.5 516.7 L456.2 516.3 L457.0 516.0 L457.8 515.7 L458.5 515.4 L459.2 515.1 L460.0 514.7 L460.8 514.4 L461.5 514.0 L462.2 513.7 L463.0 513.4 L463.8 513.0 L464.5 512.7 L465.2 512.3 L466.0 511.9 L466.8 511.6 L467.5 511.2 L468.2 510.9 L469.0 510.5 L469.8 510.1 L470.5 509.8 L471.2 509.4 L472.0 509.1 L472.8 508.7 L473.5 508.4 L474.2 508.0 L475.0 507.7 L475.8 507.3 L476.5 507.0 L477.2 506.6 L478.0 506.3 L478.8 505.9 L479.5 505.6 L480.2 505.2 L481.0 504.9 L481.8 504.6 L482.5 504.2 L483.2 503.9 L484.0 503.5 L484.8 503.2 L485.5 502.8 L486.2 502.5 L487.0 502.2 L487.8 501.8 L488.5 501.4 L489.2 501.1 L490.0 500.7 L490.8 500.4 L491.5 500.0 L492.2 499.7 L493.0 499.3 L493.8 499.0 L494.5 498.7 L495.2 498.3 L496.0 498.0 L496.8 497.7 L497.5 497.4 L498.2 497.1 L499.0 496.8 L499.8 496.5 L500.5 496.2 L501.2 495.9 L502.0 495.6 L502.8 495.3 L503.5 495.1 L504.2 494.8 L505.0 494.5 L505.8 494.2 L506.5 494.0 L507.2 493.7 L508.0 493.5 L508.8 493.3 L509.5 493.1 L510.2 492.9 L511.0 492.7 L511.8 492.5 L512.5 492.3 L513.2 492.2 L514.0 492.0 L514.8 491.9 L515.5 491.7 L516.2 491.6 L517.0 491.5 L517.8 491.3 L518.5 491.2 L519.2 491.1 L520.0 491.0 L520.8 490.9 L521.5 490.7 L522.2 490.6 L523.0 490.5 L523.8 490.4 L524.5 490.3 L525.2 490.1 L526.0 490.0 L526.8 489.8 L527.5 489.7 L528.2 489.5 L529.0 489.4 L529.8 489.2 L530.5 489.1 L531.2 488.9 L532.0 488.8 L532.8 488.7 L533.5 488.5 L534.2 488.4 L535.0 488.3 L535.8 488.2 L536.5 488.1 L537.2 488.1 L538.0 488.0 L538.8 488.0 L539.5 488.0 L540.2 488.0 L541.0 487.9 L541.8 487.9 L542.5 487.9 L543.2 487.9 L544.0 487.9 L544.8 487.9 L545.5 487.9 L546.2 487.8 L547.0 487.8 L547.8 487.8 L548.5 487.8 L549.2 487.8 L550.0 487.8 L550.8 487.8 L551.5 487.8 L552.2 487.8 L553.0 487.8 L553.8 487.8 L554.5 487.8 L555.2 487.9 L556.0 487.9 L556.8 487.9 L557.5 487.9 L558.2 488.0 L559.0 488.0 L559.8 488.1 L560.5 488.1 L561.2 488.2 L562.0 488.2 L562.8 488.3 L563.5 488.4 L564.2 488.4 L565.0 488.5 L565.8 488.6 L566.5 488.6 L567.2 488.7 L568.0 488.8 L568.8 488.9 L569.5 489.1 L570.2 489.2 L571.0 489.4 L571.8 489.6 L572.5 489.8 L573.2 489.9 L574.0 490.1 L574.8 490.3 L575.5 490.6 L576.2 490.8 L577.0 491.0 L577.8 491.2 L578.5 491.4 L579.2 491.6 L580.0 491.8 L580.8 492.1 L581.5 492.3 L582.2 492.5 L583.0 492.7 L583.8 493.0 L584.5 493.2 L585.2 493.5 L586.0 493.7 L586.8 494.0 L587.5 494.3 L588.2 494.5 L589.0 494.8 L589.8 495.1 L590.5 495.4 L591.2 495.7 L592.0 496.0 L592.8 496.3 L593.5 496.6 L594.2 496.9 L595.0 497.2 L595.8 497.5 L596.5 497.9 L597.2 498.2 L598.0 498.6 L598.8 498.9 L599.5 499.3 L600.2 499.7 L601.0 500.0 L601.8 500.4 L602.5 500.8 L603.2 501.1 L604.0 501.5 L604.8 501.9 L605.5 502.2 L606.2 502.5 L607.0 502.9 L607.8 503.2 L608.5 503.5 L609.2 503.9 L610.0 504.2 L610.8 504.5 L611.5 504.9 L612.2 505.2 L613.0 505.5 L613.8 505.9 L614.5 506.2 L615.2 506.5 L616.0 506.9 L616.8 507.2 L617.5 507.5 L618.2 507.9 L619.0 508.2 L619.8 508.6 L620.5 509.0 L621.2 509.3 L622.0 509.7 L622.8 510.1 L623.5 510.4 L624.2 510.8 L625.0 511.2 L625.8 511.6 L626.5 511.9 L627.2 512.3 L628.0 512.7 L628.8 513.0 L629.5 513.3 L630.2 513.7 L631.0 514.0 L631.8 514.3 L632.5 514.6 L633.2 514.9 L634.0 515.2 L634.8 515.5 L635.5 515.8 L636.2 516.1 L637.0 516.3 L637.8 516.6 L638.5 516.9 L639.2 517.2 L640.0 517.5 L640.8 517.8 L641.5 518.1 L642.2 518.4 L643.0 518.7 L643.8 519.1 L644.5 519.4 L645.2 519.8 L646.0 520.1 L646.8 520.5 L647.5 520.8 L648.2 521.2 L649.0 521.6 L649.8 521.9 L650.5 522.3 L651.2 522.7 L652.0 523.1 L652.8 523.4 L653.5 523.8 L654.2 524.2 L655.0 524.6 L655.8 524.9 L656.5 525.3 L657.2 525.7 L658.0 526.0 L658.8 526.4 L659.5 526.8 L660.2 527.2 L661.0 527.6 L661.8 527.9 L662.5 528.3 L663.2 528.7 L664.0 529.1 L664.8 529.4 L665.5 529.8 L666.2 530.2 L667.0 530.5 L667.8 530.9 L668.5 531.2 L669.2 531.6 L670.0 531.9 L670.8 532.2 L671.5 532.6 L672.2 532.9 L673.0 533.2 L673.8 533.6 L674.5 533.9 L675.2 534.2 L676.0 534.5 L676.8 534.8 L677.5 535.1 L678.2 535.5 L679.0 535.8 L679.8 536.1 L680.5 536.4 L681.2 536.7 L682.0 537.0 L682.8 537.3 L683.5 537.6 L684.2 538.0 L685.0 538.3 L685.8 538.6 L686.5 538.9 L687.2 539.2 L688.0 539.5 L688.8 539.8 L689.5 540.1 L690.2 540.4 L691.0 540.6 L691.8 540.9 L692.5 541.1 L693.2 541.4 L694.0 541.6 L694.8 541.8 L695.5 542.0 L696.2 542.3 L697.0 542.5 L697.8 542.7 L698.5 542.9 L699.2 543.1 L700.0 543.3 L700.8 543.5 L701.5 543.6 L702.2 543.8 L703.0 543.9 L703.8 544.1 L704.5 544.2 L705.2 544.3 L706.0 544.4 L706.8 544.5 L707.5 544.6 L708.2 544.8 L709.0 544.9 L709.8 545.0 L710.5 545.1 L711.2 545.2 L712.0 545.3 L712.8 545.3 L713.5 545.4 L714.2 545.5 L715.0 545.6 L715.8 545.6 L716.5 545.7 L717.2 545.7 L718.0 545.8 L718.8 545.8 L719.5 545.8 L720.2 545.8 L721.0 545.8 L721.8 545.8 L722.5 545.8 L723.2 545.7 L724.0 545.7 L724.8 545.7 L725.5 545.7 L726.2 545.6 L727.0 545.6 L727.8 545.5 L728.5 545.5 L729.2 545.4 L730.0 545.4 L730.8 545.3 L731.5 545.3 L732.2 545.2 L733.0 545.2 L733.8 545.1 L734.5 545.0 L735.2 545.0 L736.0 544.9 L736.8 544.8 L737.5 544.7 L738.2 544.7 L739.0 544.6 L739.8 544.5 L740.5 544.3 L741.2 544.2 L742.0 544.1 L742.8 544.0 L743.5 543.8 L744.2 543.7 L745.0 543.6 L745.8 543.4 L746.5 543.3 L747.2 543.1 L748.0 543.0 L748.8 542.8 L749.5 542.7 L750.2 542.5 L751.0 542.3 L751.8 542.1 L752.5 541.9 L753.2 541.7 L754.0 541.5 L754.8 541.3 L755.5 541.1 L756.2 540.9 L757.0 540.7 L757.8 540.4 L758.5 540.2 L759.2 540.0 L760.0 539.7 L760.8 539.5 L761.5 539.2 L762.2 539.0 L763.0 538.7 L763.8 538.4 L764.5 538.1 L765.2 537.8 L766.0 537.5 L766.8 537.2 L767.5 536.9 L768.2 536.5 L769.0 536.2 L769.8 535.9 L770.5 535.5 L771.2 535.2 L772.0 534.8 L772.8 534.5 L773.5 534.2 L774.2 533.8 L775.0 533.5 L775.8 533.1 L776.5 532.8 L777.2 532.4 L778.0 532.0 L778.8 531.6 L779.5 531.3 L780.2 530.9 L781.0 530.5 L781.8 530.1 L782.5 529.7 L783.2 529.3 L784.0 528.9 L784.8 528.5 L785.5 528.1 L786.2 527.7 L787.0 527.2 L787.8 526.8 L788.5 526.3 L789.2 525.9 L790.0 525.4 L790.8 524.9 L791.5 524.5 L792.2 524.0 L793.0 523.5 L793.8 523.0 L794.5 522.5 L795.2 522.0 L796.0 521.5 L796.8 521.0 L797.5 520.6 L798.2 520.1 L799.0 519.6 L799.8 519.1 L800.5 518.7 L801.2 518.2 L802.0 517.7 L802.8 517.2 L803.5 516.8 L804.2 516.3 L805.0 515.8 L805.8 515.3 L806.5 514.8 L807.2 514.3 L808.0 513.8 L808.8 513.3 L809.5 512.8 L810.2 512.3 L811.0 511.7 L811.8 511.2 L812.5 510.6 L813.2 510.1 L814.0 509.5 L814.8 508.9 L815.5 508.4 L816.2 507.8 L817.0 507.3 L817.8 506.7 L818.5 506.1 L819.2 505.6 L820.0 505.0 L820.8 504.5 L821.5 504.0 L822.2 503.4 L823.0 502.9 L823.8 502.4 L824.5 501.9 L825.2 501.3 L826.0 500.8 L826.8 500.3 L827.5 499.8 L828.2 499.2 L829.0 498.7 L829.8 498.2 L830.5 497.6 L831.2 497.1 L832.0 496.5 L832.8 496.0 L833.5 495.4 L834.2 494.9 L835.0 494.3 L835.8 493.7 L836.5 493.2 L837.2 492.6 L838.0 492.0 L838.8 491.5 L839.5 490.9 L840.2 490.3 L841.0 489.7 L841.8 489.1 L842.5 488.5 L843.2 487.9 L844.0 487.3 L844.8 486.8 L845.5 486.2 L846.2 485.6 L847.0 485.0 L847.8 484.4 L848.5 483.8 L849.2 483.2 L850.0 482.5 L850.8 481.9 L851.5 481.2 L852.2 480.4 L853.0 479.7 L853.8 478.9 L854.5 478.0 L855.2 477.1 L856.0 476.1 L856.8 475.1 L857.5 474.2 L858.2 473.2 L859.0 472.2 L859.8 471.2 L860.5 470.2 L861.2 469.3 L862.0 468.4 L862.8 467.5 L863.5 466.6 L864.2 465.8 L865.0 465.0 L865.8 464.1 L866.5 463.3 L867.2 462.5 L868.0 461.6 L868.8 460.7 L869.5 459.8 L870.2 458.9 L871.0 457.9 L871.8 456.9 L872.5 455.8 L873.2 454.7 L874.0 453.6 L874.8 452.5 L875.5 451.3 L876.2 450.1 L877.0 448.9 L877.8 447.6 L878.5 446.4 L879.0 445.5" stroke="#939598" stroke-width="6.4" stroke-linecap="round" stroke-dasharray="0 13.85" stroke-dashoffset="-4.40"/>
<path d="M111.0 476.5 L111.8 477.1 L112.5 477.6 L113.2 478.2 L114.0 478.8 L114.8 479.3 L115.5 479.9 L116.2 480.4 L117.0 481.0 L117.8 481.6 L118.5 482.1 L119.2 482.7 L120.0 483.2 L120.8 483.8 L121.5 484.4 L122.2 484.9 L123.0 485.5 L123.8 486.0 L124.5 486.6 L125.2 487.2 L126.0 487.7 L126.8 488.3 L127.5 488.9 L128.2 489.4 L129.0 490.0 L129.8 490.6 L130.5 491.1 L131.2 491.7 L132.0 492.3 L132.8 492.8 L133.5 493.3 L134.2 493.9 L135.0 494.4 L135.8 494.9 L136.5 495.4 L137.2 495.9 L138.0 496.4 L138.8 496.9 L139.5 497.4 L140.2 497.9 L141.0 498.3 L141.8 498.8 L142.5 499.3 L143.2 499.7 L144.0 500.2 L144.8 500.7 L145.5 501.1 L146.2 501.5 L147.0 502.0 L147.8 502.4 L148.5 502.9 L149.2 503.3 L150.0 503.7 L150.8 504.2 L151.5 504.6 L152.2 505.0 L153.0 505.4 L153.8 505.8 L154.5 506.2 L155.2 506.6 L156.0 507.0 L156.8 507.4 L157.5 507.8 L158.2 508.1 L159.0 508.5 L159.8 508.8 L160.5 509.2 L161.2 509.5 L162.0 509.8 L162.8 510.2 L163.5 510.5 L164.2 510.8 L165.0 511.1 L165.8 511.4 L166.5 511.8 L167.2 512.1 L168.0 512.4 L168.8 512.7 L169.5 513.1 L170.2 513.4 L171.0 513.7 L171.8 514.1 L172.5 514.5 L173.2 514.9 L174.0 515.2 L174.8 515.6 L175.5 516.0 L176.2 516.4 L177.0 516.8 L177.8 517.2 L178.5 517.6 L179.2 518.0 L180.0 518.3 L180.8 518.7 L181.5 519.0 L182.2 519.3 L183.0 519.6 L183.8 519.9 L184.5 520.1 L185.2 520.3 L186.0 520.6 L186.8 520.8 L187.5 521.0 L188.2 521.2 L189.0 521.4 L189.8 521.6 L190.5 521.8 L191.2 521.9 L192.0 522.1 L192.8 522.3 L193.5 522.5 L194.2 522.7 L195.0 522.9 L195.8 523.1 L196.5 523.2 L197.2 523.4 L198.0 523.6 L198.8 523.8 L199.5 524.0 L200.2 524.2 L201.0 524.4 L201.8 524.6 L202.5 524.8 L203.2 525.0 L204.0 525.2 L204.8 525.4 L205.5 525.6 L206.2 525.8 L207.0 526.0 L207.8 526.2 L208.5 526.4 L209.2 526.6 L210.0 526.8 L210.8 527.0 L211.5 527.2 L212.2 527.4 L213.0 527.6 L213.8 527.8 L214.5 528.0 L215.2 528.3 L216.0 528.5 L216.8 528.7 L217.5 528.9 L218.2 529.1 L219.0 529.3 L219.8 529.5 L220.5 529.7 L221.2 529.9 L222.0 530.1 L222.8 530.3 L223.5 530.5 L224.2 530.7 L225.0 530.8 L225.8 531.0 L226.5 531.2 L227.2 531.4 L228.0 531.5 L228.8 531.7 L229.5 531.9 L230.2 532.0 L231.0 532.2 L231.8 532.4 L232.5 532.5 L233.2 532.7 L234.0 532.9 L234.8 533.0 L235.5 533.2 L236.2 533.4 L237.0 533.5 L237.8 533.7 L238.5 533.9 L239.2 534.0 L240.0 534.2 L240.8 534.4 L241.5 534.5 L242.2 534.7 L243.0 534.9 L243.8 535.0 L244.5 535.2 L245.2 535.4 L246.0 535.5 L246.8 535.7 L247.5 535.9 L248.2 536.0 L249.0 536.2 L249.8 536.3 L250.5 536.5 L251.2 536.7 L252.0 536.8 L252.8 537.0 L253.5 537.1 L254.2 537.2 L255.0 537.4 L255.8 537.5 L256.5 537.7 L257.2 537.8 L258.0 538.0 L258.8 538.1 L259.5 538.2 L260.2 538.4 L261.0 538.5 L261.8 538.7 L262.5 538.8 L263.2 538.9 L264.0 539.1 L264.8 539.2 L265.5 539.4 L266.2 539.5 L267.0 539.7 L267.8 539.8 L268.5 540.0 L269.2 540.1 L270.0 540.3 L270.8 540.4 L271.5 540.6 L272.2 540.7 L273.0 540.9 L273.8 541.0 L274.5 541.1 L275.2 541.2 L276.0 541.3 L276.8 541.4 L277.5 541.5 L278.2 541.6 L279.0 541.7 L279.8 541.7 L280.5 541.8 L281.2 541.8 L282.0 541.9 L282.8 541.9 L283.5 542.0 L284.2 542.0 L285.0 542.1 L285.8 542.1 L286.5 542.2 L287.2 542.2 L288.0 542.3 L288.8 542.3 L289.5 542.4 L290.2 542.4 L291.0 542.5 L291.8 542.5 L292.5 542.6 L293.2 542.6 L294.0 542.7 L294.8 542.8 L295.5 542.8 L296.2 542.9 L297.0 542.9 L297.8 543.0 L298.5 543.0 L299.2 543.1 L300.0 543.2 L300.8 543.2 L301.5 543.3 L302.2 543.3 L303.0 543.4 L303.8 543.4 L304.5 543.4 L305.2 543.5 L306.0 543.5 L306.8 543.6 L307.5 543.6 L308.2 543.6 L309.0 543.7 L309.8 543.7 L310.5 543.7 L311.2 543.8 L312.0 543.8 L312.8 543.8 L313.5 543.9 L314.2 543.9 L315.0 543.9 L315.8 543.9 L316.5 544.0 L317.2 544.0 L318.0 544.0 L318.8 544.0 L319.5 544.0 L320.2 544.0 L321.0 544.0 L321.8 544.0 L322.5 544.0 L323.2 544.0 L324.0 544.0 L324.8 544.0 L325.5 544.0 L326.2 544.0 L327.0 544.0 L327.8 544.0 L328.5 544.0 L329.2 544.0 L330.0 544.0 L330.8 544.0 L331.5 544.0 L332.2 544.0 L333.0 544.0 L333.8 544.0 L334.5 544.0 L335.2 544.0 L336.0 544.0 L336.8 544.0 L337.5 543.9 L338.2 543.9 L339.0 543.9 L339.8 543.8 L340.5 543.8 L341.2 543.8 L342.0 543.7 L342.8 543.7 L343.5 543.6 L344.2 543.6 L345.0 543.5 L345.8 543.5 L346.5 543.4 L347.2 543.4 L348.0 543.3 L348.8 543.2 L349.5 543.2 L350.2 543.1 L351.0 543.1 L351.8 543.0 L352.5 542.9 L353.2 542.9 L354.0 542.8 L354.8 542.7 L355.5 542.7 L356.2 542.6 L357.0 542.5 L357.8 542.4 L358.5 542.3 L359.2 542.2 L360.0 542.1 L360.8 542.1 L361.5 542.0 L362.2 541.9 L363.0 541.8 L363.8 541.7 L364.5 541.5 L365.2 541.4 L366.0 541.3 L366.8 541.2 L367.5 541.1 L368.2 540.9 L369.0 540.8 L369.8 540.7 L370.5 540.5 L371.2 540.4 L372.0 540.3 L372.8 540.1 L373.5 540.0 L374.2 539.8 L375.0 539.7 L375.8 539.5 L376.5 539.4 L377.2 539.2 L378.0 539.1 L378.8 538.9 L379.5 538.8 L380.2 538.6 L381.0 538.4 L381.8 538.3 L382.5 538.1 L383.2 537.9 L384.0 537.8 L384.8 537.6 L385.5 537.4 L386.2 537.2 L387.0 537.1 L387.8 536.9 L388.5 536.7 L389.2 536.5 L390.0 536.3 L390.8 536.2 L391.5 536.0 L392.2 535.8 L393.0 535.6 L393.8 535.4 L394.5 535.2 L395.2 535.1 L396.0 534.9 L396.8 534.7 L397.5 534.5 L398.2 534.2 L399.0 534.0 L399.8 533.8 L400.5 533.6 L401.2 533.3 L402.0 533.1 L402.8 532.8 L403.5 532.5 L404.2 532.2 L405.0 531.8 L405.8 531.5 L406.5 531.1 L407.2 530.7 L408.0 530.4 L408.8 530.0 L409.5 529.6 L410.2 529.2 L411.0 528.9 L411.8 528.5 L412.5 528.2 L413.2 527.8 L414.0 527.5 L414.8 527.2 L415.5 526.9 L416.2 526.6 L417.0 526.3 L417.8 526.1 L418.5 525.8 L419.2 525.5 L420.0 525.2 L420.8 525.0 L421.5 524.7 L422.2 524.4 L423.0 524.2 L423.8 523.9 L424.5 523.6 L425.2 523.3 L426.0 523.0 L426.8 522.7 L427.5 522.4 L428.2 522.1 L429.0 521.8 L429.8 521.5 L430.5 521.1 L431.2 520.8 L432.0 520.4 L432.8 520.1 L433.5 519.7 L434.2 519.4 L435.0 519.0 L435.8 518.7 L436.5 518.3 L437.2 518.0 L438.0 517.6 L438.8 517.3 L439.5 516.9 L440.2 516.5 L441.0 516.2 L441.8 515.8 L442.5 515.5 L443.2 515.1 L444.0 514.7 L444.8 514.4 L445.5 514.0 L446.2 513.6 L447.0 513.3 L447.8 512.9 L448.5 512.5 L449.2 512.2 L450.0 511.8 L450.8 511.4 L451.5 511.1 L452.2 510.7 L453.0 510.4 L453.8 510.0 L454.5 509.7 L455.2 509.3 L456.0 509.0 L456.8 508.6 L457.5 508.2 L458.2 507.9 L459.0 507.6 L459.8 507.2 L460.5 506.9 L461.2 506.5 L462.0 506.2 L462.8 505.9 L463.5 505.6 L464.2 505.3 L465.0 505.0 L465.8 504.7 L466.5 504.4 L467.2 504.1 L468.0 503.8 L468.8 503.5 L469.5 503.2 L470.2 503.0 L471.0 502.7 L471.8 502.4 L472.5 502.2 L473.2 501.9 L474.0 501.7 L474.8 501.4 L475.5 501.2 L476.2 500.9 L477.0 500.7 L477.8 500.5 L478.5 500.3 L479.2 500.0 L480.0 499.8 L480.8 499.6 L481.5 499.4 L482.2 499.2 L483.0 499.0 L483.8 498.8 L484.5 498.6 L485.2 498.4 L486.0 498.2 L486.8 498.0 L487.5 497.8 L488.2 497.6 L489.0 497.4 L489.8 497.3 L490.5 497.1 L491.2 496.9 L492.0 496.7 L492.8 496.6 L493.5 496.4 L494.2 496.2 L495.0 496.1 L495.8 495.9 L496.5 495.7 L497.2 495.6 L498.0 495.4 L498.8 495.3 L499.5 495.1 L500.2 495.0 L501.0 494.8 L501.8 494.7 L502.5 494.6 L503.2 494.5 L504.0 494.3 L504.8 494.2 L505.5 494.1 L506.2 494.0 L507.0 493.9 L507.8 493.8 L508.5 493.6 L509.2 493.5 L510.0 493.4 L510.8 493.3 L511.5 493.2 L512.2 493.1 L513.0 493.0 L513.8 492.9 L514.5 492.8 L515.2 492.8 L516.0 492.7 L516.8 492.7 L517.5 492.6 L518.2 492.6 L519.0 492.6 L519.8 492.6 L520.5 492.6 L521.2 492.6 L522.0 492.6 L522.8 492.6 L523.5 492.6 L524.2 492.6 L525.0 492.6 L525.8 492.6 L526.5 492.6 L527.2 492.6 L528.0 492.6 L528.8 492.6 L529.5 492.6 L530.2 492.6 L531.0 492.6 L531.8 492.6 L532.5 492.6 L533.2 492.6 L534.0 492.6 L534.8 492.6 L535.5 492.6 L536.2 492.6 L537.0 492.6 L537.8 492.7 L538.5 492.7 L539.2 492.7 L540.0 492.7 L540.8 492.7 L541.5 492.8 L542.2 492.8 L543.0 492.8 L543.8 492.8 L544.5 492.8 L545.2 492.9 L546.0 492.9 L546.8 492.9 L547.5 492.9 L548.2 493.0 L549.0 493.0 L549.8 493.0 L550.5 493.0 L551.2 493.1 L552.0 493.1 L552.8 493.1 L553.5 493.2 L554.2 493.2 L555.0 493.2 L555.8 493.3 L556.5 493.3 L557.2 493.4 L558.0 493.4 L558.8 493.5 L559.5 493.5 L560.2 493.6 L561.0 493.7 L561.8 493.7 L562.5 493.8 L563.2 494.0 L564.0 494.1 L564.8 494.2 L565.5 494.4 L566.2 494.5 L567.0 494.7 L567.8 494.8 L568.5 495.0 L569.2 495.2 L570.0 495.3 L570.8 495.5 L571.5 495.7 L572.2 495.9 L573.0 496.1 L573.8 496.2 L574.5 496.4 L575.2 496.6 L576.0 496.8 L576.8 497.0 L577.5 497.2 L578.2 497.4 L579.0 497.6 L579.8 497.8 L580.5 498.0 L581.2 498.2 L582.0 498.4 L582.8 498.6 L583.5 498.9 L584.2 499.1 L585.0 499.3 L585.8 499.5 L586.5 499.8 L587.2 500.0 L588.0 500.2 L588.8 500.5 L589.5 500.7 L590.2 501.0 L591.0 501.2 L591.8 501.5 L592.5 501.7 L593.2 502.0 L594.0 502.2 L594.8 502.5 L595.5 502.8 L596.2 503.0 L597.0 503.3 L597.8 503.6 L598.5 503.9 L599.2 504.2 L600.0 504.5 L600.8 504.8 L601.5 505.2 L602.2 505.5 L603.0 505.9 L603.8 506.3 L604.5 506.6 L605.2 507.0 L606.0 507.4 L606.8 507.8 L607.5 508.2 L608.2 508.6 L609.0 509.0 L609.8 509.4 L610.5 509.8 L611.2 510.2 L612.0 510.5 L612.8 510.9 L613.5 511.3 L614.2 511.7 L615.0 512.1 L615.8 512.5 L616.5 512.9 L617.2 513.3 L618.0 513.7 L618.8 514.1 L619.5 514.5 L620.2 515.0 L621.0 515.4 L621.8 515.8 L622.5 516.2 L623.2 516.5 L624.0 516.9 L624.8 517.3 L625.5 517.7 L626.2 518.1 L627.0 518.5 L627.8 518.9 L628.5 519.2 L629.2 519.6 L630.0 520.0 L630.8 520.4 L631.5 520.7 L632.2 521.1 L633.0 521.5 L633.8 521.9 L634.5 522.2 L635.2 522.6 L636.0 523.0 L636.8 523.3 L637.5 523.7 L638.2 524.1 L639.0 524.4 L639.8 524.8 L640.5 525.2 L641.2 525.5 L642.0 525.9 L642.8 526.3 L643.5 526.6 L644.2 527.0 L645.0 527.3 L645.8 527.7 L646.5 528.0 L647.2 528.4 L648.0 528.7 L648.8 529.0 L649.5 529.3 L650.2 529.6 L651.0 529.8 L651.8 530.1 L652.5 530.4 L653.2 530.6 L654.0 530.9 L654.8 531.2 L655.5 531.4 L656.2 531.6 L657.0 531.9 L657.8 532.1 L658.5 532.4 L659.2 532.6 L660.0 532.8 L660.8 533.0 L661.5 533.3 L662.2 533.5 L663.0 533.7 L663.8 533.9 L664.5 534.2 L665.2 534.4 L666.0 534.6 L666.8 534.8 L667.5 535.0 L668.2 535.2 L669.0 535.4 L669.8 535.7 L670.5 535.9 L671.2 536.1 L672.0 536.3 L672.8 536.4 L673.5 536.6 L674.2 536.8 L675.0 537.0 L675.8 537.2 L676.5 537.3 L677.2 537.5 L678.0 537.7 L678.8 537.8 L679.5 538.0 L680.2 538.1 L681.0 538.3 L681.8 538.5 L682.5 538.6 L683.2 538.7 L684.0 538.9 L684.8 539.0 L685.5 539.2 L686.2 539.3 L687.0 539.4 L687.8 539.6 L688.5 539.7 L689.2 539.8 L690.0 539.9 L690.8 540.0 L691.5 540.2 L692.2 540.3 L693.0 540.4 L693.8 540.5 L694.5 540.6 L695.2 540.7 L696.0 540.8 L696.8 540.9 L697.5 541.0 L698.2 541.1 L699.0 541.2 L699.8 541.3 L700.5 541.4 L701.2 541.5 L702.0 541.5 L702.8 541.6 L703.5 541.7 L704.2 541.8 L705.0 541.9 L705.8 542.0 L706.5 542.1 L707.2 542.2 L708.0 542.3 L708.8 542.4 L709.5 542.5 L710.2 542.6 L711.0 542.6 L711.8 542.7 L712.5 542.8 L713.2 542.8 L714.0 542.9 L714.8 542.9 L715.5 543.0 L716.2 543.0 L717.0 543.0 L717.8 543.1 L718.5 543.1 L719.2 543.1 L720.0 543.1 L720.8 543.2 L721.5 543.2 L722.2 543.2 L723.0 543.2 L723.8 543.2 L724.5 543.2 L725.2 543.3 L726.0 543.3 L726.8 543.3 L727.5 543.3 L728.2 543.3 L729.0 543.3 L729.8 543.3 L730.5 543.3 L731.2 543.3 L732.0 543.3 L732.8 543.2 L733.5 543.2 L734.2 543.2 L735.0 543.1 L735.8 543.1 L736.5 543.0 L737.2 542.9 L738.0 542.9 L738.8 542.8 L739.5 542.7 L740.2 542.6 L741.0 542.5 L741.8 542.4 L742.5 542.3 L743.2 542.2 L744.0 542.1 L744.8 542.0 L745.5 541.9 L746.2 541.8 L747.0 541.7 L747.8 541.5 L748.5 541.3 L749.2 541.1 L750.0 541.0 L750.8 540.7 L751.5 540.5 L752.2 540.3 L753.0 540.1 L753.8 539.8 L754.5 539.6 L755.2 539.4 L756.0 539.1 L756.8 538.9 L757.5 538.6 L758.2 538.4 L759.0 538.1 L759.8 537.9 L760.5 537.6 L761.2 537.3 L762.0 537.0 L762.8 536.7 L763.5 536.4 L764.2 536.1 L765.0 535.8 L765.8 535.5 L766.5 535.2 L767.2 534.9 L768.0 534.6 L768.8 534.3 L769.5 534.0 L770.2 533.7 L771.0 533.4 L771.8 533.1 L772.5 532.8 L773.2 532.5 L774.0 532.3 L774.8 532.0 L775.5 531.7 L776.2 531.4 L777.0 531.1 L777.8 530.8 L778.5 530.5 L779.2 530.2 L780.0 529.9 L780.8 529.6 L781.5 529.2 L782.2 528.9 L783.0 528.5 L783.8 528.2 L784.5 527.8 L785.2 527.4 L786.0 527.0 L786.8 526.6 L787.5 526.1 L788.2 525.6 L789.0 525.2 L789.8 524.7 L790.5 524.2 L791.2 523.7 L792.0 523.2 L792.8 522.6 L793.5 522.1 L794.2 521.6 L795.0 521.1 L795.8 520.7 L796.5 520.2 L797.2 519.7 L798.0 519.2 L798.8 518.8 L799.5 518.3 L800.2 517.9 L801.0 517.4 L801.8 516.9 L802.5 516.5 L803.2 516.0 L804.0 515.5 L804.8 515.0 L805.5 514.5 L806.2 514.0 L807.0 513.5 L807.8 513.0 L808.5 512.5 L809.2 512.0 L810.0 511.4 L810.8 510.9 L811.5 510.3 L812.2 509.8 L813.0 509.2 L813.8 508.6 L814.5 508.0 L815.2 507.5 L816.0 506.9 L816.8 506.3 L817.5 505.8 L818.2 505.2 L819.0 504.7 L819.8 504.1 L820.5 503.6 L821.2 503.1 L822.0 502.6 L822.8 502.0 L823.5 501.5 L824.2 501.0 L825.0 500.5 L825.8 499.9 L826.5 499.4 L827.2 498.9 L828.0 498.3 L828.8 497.8 L829.5 497.3 L830.2 496.7 L831.0 496.2 L831.8 495.6 L832.5 495.1 L833.2 494.5 L834.0 494.0 L834.8 493.4 L835.5 492.8 L836.2 492.3 L837.0 491.7 L837.8 491.1 L838.5 490.6 L839.2 490.0 L840.0 489.4 L840.8 488.8 L841.5 488.2 L842.2 487.6 L843.0 487.0 L843.8 486.5 L844.5 485.9 L845.2 485.3 L846.0 484.7 L846.8 484.1 L847.5 483.5 L848.2 482.8 L849.0 482.2 L849.8 481.5 L850.5 480.8 L851.2 480.0 L852.0 479.3 L852.8 478.4 L853.5 477.5 L854.2 476.6 L855.0 475.6 L855.8 474.7 L856.5 473.7 L857.2 472.7 L858.0 471.7 L858.8 470.8 L859.5 469.8 L860.2 468.9 L861.0 468.0 L861.8 467.2 L862.5 466.3 L863.2 465.5 L864.0 464.7 L864.8 463.8 L865.5 463.0 L866.2 462.2 L867.0 461.3 L867.8 460.4 L868.5 459.5 L869.2 458.6 L870.0 457.7 L870.8 456.7 L871.5 455.7 L872.2 454.6 L873.0 453.6 L873.8 452.5 L874.5 451.4 L875.2 450.3 L876.0 449.1 L876.8 448.0 L877.5 446.8 L878.0 446.0" stroke="#b7b8ba" stroke-width="6.4" stroke-linecap="round" stroke-dasharray="0 13.87" stroke-dashoffset="-1.20"/>
</g>
<rect x="109.5" y="20.3" width="768.5" height="628.0" fill="none" stroke="#96979b" stroke-width="3"/>
<line x1="97.3" y1="20.3" x2="109.5" y2="20.3" stroke="#96979b" stroke-width="3"/>
<line x1="97.3" y1="125.0" x2="109.5" y2="125.0" stroke="#96979b" stroke-width="3"/>
<line x1="97.3" y1="229.6" x2="109.5" y2="229.6" stroke="#96979b" stroke-width="3"/>
<line x1="97.3" y1="334.3" x2="109.5" y2="334.3" stroke="#96979b" stroke-width="3"/>
<line x1="97.3" y1="439.0" x2="109.5" y2="439.0" stroke="#96979b" stroke-width="3"/>
<line x1="97.3" y1="543.6" x2="109.5" y2="543.6" stroke="#96979b" stroke-width="3"/>
<line x1="97.3" y1="648.3" x2="109.5" y2="648.3" stroke="#96979b" stroke-width="3"/>
<line x1="109.5" y1="648.3" x2="109.5" y2="659.8" stroke="#96979b" stroke-width="3"/>
<line x1="417.2" y1="648.3" x2="417.2" y2="659.8" stroke="#96979b" stroke-width="3"/>
<line x1="724.9" y1="648.3" x2="724.9" y2="659.8" stroke="#96979b" stroke-width="3"/>
<text transform="translate(75.00 33.80) scale(1 1.06)" text-anchor="end" class="t">1.0</text>
<text transform="translate(75.00 138.47) scale(1 1.06)" text-anchor="end" class="t">0.8</text>
<text transform="translate(75.00 243.13) scale(1 1.06)" text-anchor="end" class="t">0.6</text>
<text transform="translate(75.00 347.80) scale(1 1.06)" text-anchor="end" class="t">0.4</text>
<text transform="translate(75.00 452.47) scale(1 1.06)" text-anchor="end" class="t">0.2</text>
<text transform="translate(75.00 557.13) scale(1 1.06)" text-anchor="end" class="t">0.0</text>
<text transform="translate(75.00 661.80) scale(1 1.06)" text-anchor="end" class="t">-0.2</text>
<text transform="translate(109.50 710.90) scale(1 1.06)" text-anchor="middle" class="t">0.8</text>
<text transform="translate(417.20 710.90) scale(1 1.06)" text-anchor="middle" class="t">0.9</text>
<text transform="translate(724.90 710.90) scale(1 1.06)" text-anchor="middle" class="t">1.0</text>
<line x1="218" y1="193" x2="218.5" y2="390" stroke="#231f20" stroke-width="2.4"/>
<polyline points="203.3,365 218.4,390.5 233,365" fill="none" stroke="#231f20" stroke-width="2.4"/>
<text transform="translate(138.70 76.00) scale(1 1.06)" class="t" style="font-style:italic;">ΔI</text>
<text transform="translate(189.00 76.00) scale(1 1.06)" class="t">/μA</text>
<text transform="translate(751.90 105.60) scale(1 1.01)" class="t" style="font-size:41.4px;">(A)</text>
<text transform="translate(781.00 634.00) scale(1 1.06)" class="t"><tspan font-style="italic">E</tspan> /V</text>
<text transform="translate(238.00 293.00) scale(1 1.0)" class="t">c(<tspan font-size="23" dy="8.5">Fe</tspan><tspan font-size="23" dy="-21">2+</tspan><tspan dy="12.5"> )</tspan></text>
<rect x="1049.2" y="24.4" width="764.4" height="619.3" fill="none" stroke="#96979b" stroke-width="3"/>
<line x1="1037.0" y1="80.7" x2="1049.2" y2="80.7" stroke="#96979b" stroke-width="3"/>
<line x1="1037.0" y1="193.3" x2="1049.2" y2="193.3" stroke="#96979b" stroke-width="3"/>
<line x1="1037.0" y1="305.9" x2="1049.2" y2="305.9" stroke="#96979b" stroke-width="3"/>
<line x1="1037.0" y1="418.5" x2="1049.2" y2="418.5" stroke="#96979b" stroke-width="3"/>
<line x1="1037.0" y1="531.1" x2="1049.2" y2="531.1" stroke="#96979b" stroke-width="3"/>
<line x1="1037.0" y1="643.7" x2="1049.2" y2="643.7" stroke="#96979b" stroke-width="3"/>
<line x1="1049.2" y1="643.7" x2="1049.2" y2="655.2" stroke="#96979b" stroke-width="3"/>
<line x1="1192.8" y1="643.7" x2="1192.8" y2="655.2" stroke="#96979b" stroke-width="3"/>
<line x1="1336.4" y1="643.7" x2="1336.4" y2="655.2" stroke="#96979b" stroke-width="3"/>
<line x1="1479.9" y1="643.7" x2="1479.9" y2="655.2" stroke="#96979b" stroke-width="3"/>
<line x1="1623.5" y1="643.7" x2="1623.5" y2="655.2" stroke="#96979b" stroke-width="3"/>
<line x1="1767.1" y1="643.7" x2="1767.1" y2="655.2" stroke="#96979b" stroke-width="3"/>
<text transform="translate(1015.50 94.20) scale(1 1.06)" text-anchor="end" class="t">0.9</text>
<text transform="translate(1015.50 206.80) scale(1 1.06)" text-anchor="end" class="t">0.7</text>
<text transform="translate(1015.50 319.40) scale(1 1.06)" text-anchor="end" class="t">0.5</text>
<text transform="translate(1015.50 432.00) scale(1 1.06)" text-anchor="end" class="t">0.3</text>
<text transform="translate(1015.50 544.60) scale(1 1.06)" text-anchor="end" class="t">0.<tspan dx="2.5">1</tspan></text>
<text transform="translate(1015.50 657.20) scale(1 1.06)" text-anchor="end" class="t">-0.<tspan dx="2.5">1</tspan></text>
<text transform="translate(1049.20 706.30) scale(1 1.06)" text-anchor="middle" class="t">-0.2</text>
<text transform="translate(1192.78 706.30) scale(1 1.06)" text-anchor="middle" class="t">0.4</text>
<text transform="translate(1336.36 706.30) scale(1 1.06)" text-anchor="middle" class="t">1.0</text>
<text transform="translate(1479.94 706.30) scale(1 1.06)" text-anchor="middle" class="t">1.6</text>
<text transform="translate(1623.52 706.30) scale(1 1.06)" text-anchor="middle" class="t">2.2</text>
<text transform="translate(1767.10 706.30) scale(1 1.06)" text-anchor="middle" class="t">2.8</text>
<line x1="1097.4" y1="145.3" x2="1097.4" y2="165.7" stroke="#231f20" stroke-width="2.6"/><line x1="1088.0" y1="145.3" x2="1106.8" y2="145.3" stroke="#231f20" stroke-width="2.6"/><line x1="1088.0" y1="165.7" x2="1106.8" y2="165.7" stroke="#231f20" stroke-width="2.6"/><ellipse cx="1097.4" cy="155.5" rx="8.1" ry="7.7" fill="#231f20"/>
<line x1="1192.7" y1="232.8" x2="1192.7" y2="256.8" stroke="#231f20" stroke-width="2.6"/><line x1="1183.3" y1="232.8" x2="1202.1" y2="232.8" stroke="#231f20" stroke-width="2.6"/><line x1="1183.3" y1="256.8" x2="1202.1" y2="256.8" stroke="#231f20" stroke-width="2.6"/><ellipse cx="1192.7" cy="244.8" rx="8.1" ry="7.7" fill="#231f20"/>
<line x1="1288.2" y1="390.6" x2="1288.2" y2="411.8" stroke="#231f20" stroke-width="2.6"/><line x1="1278.8" y1="390.6" x2="1297.6" y2="390.6" stroke="#231f20" stroke-width="2.6"/><line x1="1278.8" y1="411.8" x2="1297.6" y2="411.8" stroke="#231f20" stroke-width="2.6"/><ellipse cx="1288.2" cy="401.2" rx="8.1" ry="7.7" fill="#231f20"/>
<line x1="1384.7" y1="448.2" x2="1384.7" y2="477.2" stroke="#231f20" stroke-width="2.6"/><line x1="1375.3" y1="448.2" x2="1394.1" y2="448.2" stroke="#231f20" stroke-width="2.6"/><line x1="1375.3" y1="477.2" x2="1394.1" y2="477.2" stroke="#231f20" stroke-width="2.6"/><ellipse cx="1384.7" cy="462.7" rx="8.1" ry="7.7" fill="#231f20"/>
<line x1="1479.6" y1="498.6" x2="1479.6" y2="512.6" stroke="#231f20" stroke-width="2.6"/><line x1="1470.2" y1="498.6" x2="1489.0" y2="498.6" stroke="#231f20" stroke-width="2.6"/><line x1="1470.2" y1="512.6" x2="1489.0" y2="512.6" stroke="#231f20" stroke-width="2.6"/><ellipse cx="1479.6" cy="505.6" rx="8.1" ry="7.7" fill="#231f20"/>
<line x1="1575.7" y1="520.9" x2="1575.7" y2="527.9" stroke="#231f20" stroke-width="2.6"/><line x1="1566.3" y1="520.9" x2="1585.1" y2="520.9" stroke="#231f20" stroke-width="2.6"/><line x1="1566.3" y1="527.9" x2="1585.1" y2="527.9" stroke="#231f20" stroke-width="2.6"/><ellipse cx="1575.7" cy="524.4" rx="8.1" ry="7.7" fill="#231f20"/>
<line x1="1671.2" y1="523.5" x2="1671.2" y2="528.5" stroke="#231f20" stroke-width="2.6"/><line x1="1661.8" y1="523.5" x2="1680.6" y2="523.5" stroke="#231f20" stroke-width="2.6"/><line x1="1661.8" y1="528.5" x2="1680.6" y2="528.5" stroke="#231f20" stroke-width="2.6"/><ellipse cx="1671.2" cy="526.0" rx="8.1" ry="7.7" fill="#231f20"/>
<line x1="1766.8" y1="513.2" x2="1766.8" y2="523.2" stroke="#231f20" stroke-width="2.6"/><line x1="1757.4" y1="513.2" x2="1776.2" y2="513.2" stroke="#231f20" stroke-width="2.6"/><line x1="1757.4" y1="523.2" x2="1776.2" y2="523.2" stroke="#231f20" stroke-width="2.6"/><ellipse cx="1766.8" cy="518.2" rx="8.1" ry="7.7" fill="#231f20"/>
<text transform="translate(1083.50 77.50) scale(1 1.06)" class="t" style="font-style:italic;">ΔI</text>
<text transform="translate(1121.10 86.30) scale(1 1.06)" class="t" style="font-size:27px;">p</text>
<text transform="translate(1148.90 77.50) scale(1 1.06)" class="t">/μA</text>
<text transform="translate(1706.00 105.50) scale(1 1.01)" class="t" style="font-size:41.4px;">(B)</text>
<text transform="translate(1492.40 611.60) scale(1 1.06)" class="t" style="font-style:italic;">C</text>
<text transform="translate(1531.90 619.80) scale(1 1.0)" class="t" style="font-size:25.5px;letter-spacing:1.5px;">Fe</text>
<text transform="translate(1563.30 600.00) scale(1 1.06)" class="t" style="font-size:25.5px;letter-spacing:1.5px;">2+</text>
<text transform="translate(1602.90 611.60) scale(1 1.06)" class="t">/mmol L</text>
<text transform="translate(1748.00 599.30) scale(1 1.06)" class="t" style="font-size:25.5px;">-1</text>
<rect x="557.3" y="730.6" width="757.2" height="559.6" fill="none" stroke="#96979b" stroke-width="3"/>
<line x1="545.1" y1="730.6" x2="557.3" y2="730.6" stroke="#96979b" stroke-width="3"/>
<line x1="545.1" y1="842.5" x2="557.3" y2="842.5" stroke="#96979b" stroke-width="3"/>
<line x1="545.1" y1="954.4" x2="557.3" y2="954.4" stroke="#96979b" stroke-width="3"/>
<line x1="545.1" y1="1066.4" x2="557.3" y2="1066.4" stroke="#96979b" stroke-width="3"/>
<line x1="545.1" y1="1178.3" x2="557.3" y2="1178.3" stroke="#96979b" stroke-width="3"/>
<line x1="545.1" y1="1290.2" x2="557.3" y2="1290.2" stroke="#96979b" stroke-width="3"/>
<line x1="557.3" y1="1290.2" x2="557.3" y2="1301.7" stroke="#96979b" stroke-width="3"/>
<line x1="692.4" y1="1290.2" x2="692.4" y2="1301.7" stroke="#96979b" stroke-width="3"/>
<line x1="827.5" y1="1290.2" x2="827.5" y2="1301.7" stroke="#96979b" stroke-width="3"/>
<line x1="962.7" y1="1290.2" x2="962.7" y2="1301.7" stroke="#96979b" stroke-width="3"/>
<line x1="1097.8" y1="1290.2" x2="1097.8" y2="1301.7" stroke="#96979b" stroke-width="3"/>
<line x1="1232.9" y1="1290.2" x2="1232.9" y2="1301.7" stroke="#96979b" stroke-width="3"/>
<text transform="translate(523.00 744.10) scale(1 1.06)" text-anchor="end" class="t">0.9</text>
<text transform="translate(523.00 856.02) scale(1 1.06)" text-anchor="end" class="t">0.7</text>
<text transform="translate(523.00 967.94) scale(1 1.06)" text-anchor="end" class="t">0.5</text>
<text transform="translate(523.00 1079.86) scale(1 1.06)" text-anchor="end" class="t">0.3</text>
<text transform="translate(523.00 1191.78) scale(1 1.06)" text-anchor="end" class="t">0.<tspan dx="2.5">1</tspan></text>
<text transform="translate(523.00 1303.70) scale(1 1.06)" text-anchor="end" class="t">-0.<tspan dx="2.5">1</tspan></text>
<text transform="translate(557.30 1352.80) scale(1 1.06)" text-anchor="middle" class="t">0</text>
<text transform="translate(692.42 1352.80) scale(1 1.06)" text-anchor="middle" class="t">50</text>
<text transform="translate(827.55 1352.80) scale(1 1.06)" text-anchor="middle" class="t">100</text>
<text transform="translate(962.67 1352.80) scale(1 1.06)" text-anchor="middle" class="t">150</text>
<text transform="translate(1097.80 1352.80) scale(1 1.06)" text-anchor="middle" class="t">200</text>
<text transform="translate(1232.92 1352.80) scale(1 1.06)" text-anchor="middle" class="t">250</text>
<line x1="558.2" y1="802.3" x2="558.2" y2="825.3" stroke="#231f20" stroke-width="2.6"/><line x1="557.3" y1="802.3" x2="567.6" y2="802.3" stroke="#231f20" stroke-width="2.6"/><line x1="557.3" y1="825.3" x2="567.6" y2="825.3" stroke="#231f20" stroke-width="2.6"/><ellipse cx="558.2" cy="813.8" rx="8.1" ry="7.7" fill="#231f20"/>
<line x1="639.1" y1="973.8" x2="639.1" y2="991.0" stroke="#231f20" stroke-width="2.6"/><line x1="629.7" y1="973.8" x2="648.5" y2="973.8" stroke="#231f20" stroke-width="2.6"/><line x1="629.7" y1="991.0" x2="648.5" y2="991.0" stroke="#231f20" stroke-width="2.6"/><ellipse cx="639.1" cy="982.4" rx="8.1" ry="7.7" fill="#231f20"/>
<line x1="719.6" y1="1070.8" x2="719.6" y2="1084.0" stroke="#231f20" stroke-width="2.6"/><line x1="710.2" y1="1070.8" x2="729.0" y2="1070.8" stroke="#231f20" stroke-width="2.6"/><line x1="710.2" y1="1084.0" x2="729.0" y2="1084.0" stroke="#231f20" stroke-width="2.6"/><ellipse cx="719.6" cy="1077.4" rx="8.1" ry="7.7" fill="#231f20"/>
<line x1="800.6" y1="1119.0" x2="800.6" y2="1133.0" stroke="#231f20" stroke-width="2.6"/><line x1="791.2" y1="1119.0" x2="810.0" y2="1119.0" stroke="#231f20" stroke-width="2.6"/><line x1="791.2" y1="1133.0" x2="810.0" y2="1133.0" stroke="#231f20" stroke-width="2.6"/><ellipse cx="800.6" cy="1126.0" rx="8.1" ry="7.7" fill="#231f20"/>
<line x1="881.6" y1="1150.6" x2="881.6" y2="1166.6" stroke="#231f20" stroke-width="2.6"/><line x1="872.2" y1="1150.6" x2="891.0" y2="1150.6" stroke="#231f20" stroke-width="2.6"/><line x1="872.2" y1="1166.6" x2="891.0" y2="1166.6" stroke="#231f20" stroke-width="2.6"/><ellipse cx="881.6" cy="1158.6" rx="8.1" ry="7.7" fill="#231f20"/>
<line x1="962.6" y1="1158.4" x2="962.6" y2="1174.0" stroke="#231f20" stroke-width="2.6"/><line x1="953.2" y1="1158.4" x2="972.0" y2="1158.4" stroke="#231f20" stroke-width="2.6"/><line x1="953.2" y1="1174.0" x2="972.0" y2="1174.0" stroke="#231f20" stroke-width="2.6"/><ellipse cx="962.6" cy="1166.2" rx="8.1" ry="7.7" fill="#231f20"/>
<line x1="1043.6" y1="1170.0" x2="1043.6" y2="1186.6" stroke="#231f20" stroke-width="2.6"/><line x1="1034.2" y1="1170.0" x2="1053.0" y2="1170.0" stroke="#231f20" stroke-width="2.6"/><line x1="1034.2" y1="1186.6" x2="1053.0" y2="1186.6" stroke="#231f20" stroke-width="2.6"/><ellipse cx="1043.6" cy="1178.3" rx="8.1" ry="7.7" fill="#231f20"/>
<line x1="1124.8" y1="1178.7" x2="1124.8" y2="1191.9" stroke="#231f20" stroke-width="2.6"/><line x1="1115.4" y1="1178.7" x2="1134.2" y2="1178.7" stroke="#231f20" stroke-width="2.6"/><line x1="1115.4" y1="1191.9" x2="1134.2" y2="1191.9" stroke="#231f20" stroke-width="2.6"/><ellipse cx="1124.8" cy="1185.3" rx="8.1" ry="7.7" fill="#231f20"/>
<line x1="1206.1" y1="1187.1" x2="1206.1" y2="1192.1" stroke="#231f20" stroke-width="2.6"/><line x1="1196.7" y1="1187.1" x2="1215.5" y2="1187.1" stroke="#231f20" stroke-width="2.6"/><line x1="1196.7" y1="1192.1" x2="1215.5" y2="1192.1" stroke="#231f20" stroke-width="2.6"/><ellipse cx="1206.1" cy="1189.6" rx="8.1" ry="7.7" fill="#231f20"/>
<text transform="translate(618.30 781.70) scale(1 1.06)" class="t" style="font-style:italic;">ΔI</text>
<text transform="translate(656.20 790.50) scale(1 1.06)" class="t" style="font-size:27px;">p</text>
<text transform="translate(683.50 781.70) scale(1 1.06)" class="t">/μA</text>
<text transform="translate(1196.30 824.20) scale(1 1.01)" class="t" style="font-size:41.4px;">(C)</text>
<text transform="translate(1145.00 1261.50) scale(1 1.06)" class="t"><tspan font-style="italic">time</tspan> / s</text>
</svg>
</body></html>
